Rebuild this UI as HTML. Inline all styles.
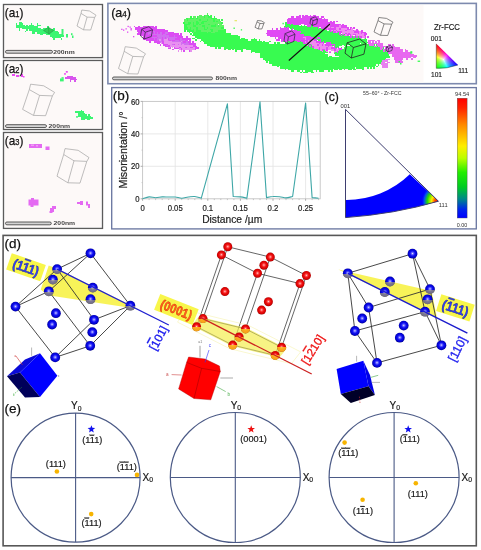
<!DOCTYPE html>
<html><head><meta charset="utf-8"><style>
html,body{margin:0;padding:0;background:#fff;}
svg{display:block;font-family:'Liberation Sans', Arial, sans-serif;}
</style></head><body>
<svg width="481" height="550" viewBox="0 0 481 550">
<rect x="3.5" y="4.5" width="99" height="53.1" fill="#ffffff" stroke="#5c5c5c" stroke-width="1.35"/>
<rect x="5" y="5.8" width="96" height="50.5" fill="#fdf9f8"/>
<rect x="3.5" y="60.5" width="99" height="69.0" fill="#ffffff" stroke="#5c5c5c" stroke-width="1.35"/>
<rect x="5" y="61.8" width="96" height="66.4" fill="#fdf9f8"/>
<rect x="3.5" y="132.5" width="99" height="95.9" fill="#ffffff" stroke="#5c5c5c" stroke-width="1.35"/>
<rect x="5" y="133.8" width="96" height="93.30000000000001" fill="#fdf9f8"/>
<rect x="107.9" y="3.4" width="368.4" height="80.3" fill="#ffffff" stroke="#7d8aae" stroke-width="1.6"/>
<rect x="110" y="5" width="313.5" height="77.5" fill="#fdf9f8"/>
<rect x="111.7" y="87.6" width="364.6" height="141.3" fill="#ffffff" stroke="#6c78a2" stroke-width="1.35"/>
<rect x="3.1" y="235.4" width="473.2" height="310.4" fill="#ffffff" stroke="#575757" stroke-width="1.6"/>
<path d="M18.50,21.50h3.00v1.5h-3.00zM15.50,23.00h1.50v1.5h-1.50zM18.50,23.00h4.50v1.5h-4.50zM30.50,23.00h1.50v1.5h-1.50zM36.50,23.00h1.50v1.5h-1.50zM15.50,24.50h9.00v1.5h-9.00zM26.00,24.50h1.50v1.5h-1.50zM29.00,24.50h4.50v1.5h-4.50zM36.50,24.50h4.50v1.5h-4.50zM15.50,26.00h22.50v1.5h-22.50zM47.00,26.00h1.50v1.5h-1.50zM18.50,27.50h1.50v1.5h-1.50zM21.50,27.50h19.50v1.5h-19.50zM42.50,27.50h7.50v1.5h-7.50zM53.00,27.50h1.50v1.5h-1.50zM18.50,29.00h1.50v1.5h-1.50zM26.00,29.00h1.50v1.5h-1.50zM29.00,29.00h25.50v1.5h-25.50zM24.50,30.50h1.50v1.5h-1.50zM32.00,30.50h25.50v1.5h-25.50zM32.00,32.00h3.00v1.5h-3.00zM36.50,32.00h22.50v1.5h-22.50zM39.50,33.50h3.00v1.5h-3.00zM45.50,33.50h16.50v1.5h-16.50zM50.00,35.00h13.50v1.5h-13.50zM51.50,36.50h9.00v1.5h-9.00zM53.00,38.00h1.50v1.5h-1.50zM60.50,38.00h1.50v1.5h-1.50z" fill="#3af672" shape-rendering="crispEdges"/>
<rect x="61.5" y="29" width="2" height="8" fill="#3af672"/>
<rect x="66" y="34" width="2" height="3.5" fill="#3af672"/>
<rect x="71" y="33.2" width="1.5" height="2" fill="#3af672"/>
<rect x="72" y="35.5" width="1.5" height="2.5" fill="#3af672"/>
<path d="M43.5,30.5 L48.5,27.2 L53.7,30.5 L49,34 Z" fill="#2fc050" opacity="0.75"/>
<path d="M43.5,30.5 L48.5,27.2 L53.7,30.5 L49,34 Z M48.5,27.2 L49,34" fill="none" stroke="#207a40" stroke-width="0.4"/>
<path d="M81.8,10.0 L89.5,11.0 L96.0,15.2 L94.7,17.4 L90.7,30.0 L83.5,29.8 L77.0,26.0 L81.0,13.4 Z M81.0,13.4 L87.1,17.1 L94.7,17.4 M87.1,17.1 L83.5,29.8" fill="none" stroke="#a2a2a2" stroke-width="0.7" stroke-linejoin="round"/>
<rect x="5.5" y="50.4" width="47" height="2.8" rx="1.4" fill="#d4d4d4" stroke="#4a4a4a" stroke-width="0.9"/>
<text x="53.3" y="53.6" font-size="6.2" font-weight="bold" fill="#444" textLength="21.5" lengthAdjust="spacingAndGlyphs">200nm</text>
<rect x="12" y="74" width="3" height="2" fill="#ea4cf2"/>
<rect x="16" y="75" width="3" height="2" fill="#ea4cf2"/>
<rect x="21" y="74" width="2" height="3" fill="#ea4cf2"/>
<rect x="23" y="76" width="1.5" height="1.5" fill="#ea4cf2"/>
<rect x="65.8" y="71" width="2" height="1.7" fill="#ea4cf2"/>
<rect x="64.2" y="73" width="1.6" height="1.8" fill="#ea4cf2"/>
<path d="M66.50,75.50h6.00v1.5h-6.00zM65.00,77.00h10.50v1.5h-10.50zM69.50,78.50h7.50v1.5h-7.50zM69.50,80.00h1.50v1.5h-1.50zM74.00,80.00h1.50v1.5h-1.50z" fill="#d855ee" shape-rendering="crispEdges"/>
<rect x="60" y="78.5" width="3.7" height="2.9" fill="#3af672"/>
<rect x="61.5" y="77.2" width="2.2" height="1.5" fill="#3af672"/>
<path d="M80.50,109.50h1.50v1.5h-1.50zM74.50,111.00h9.00v1.5h-9.00zM77.50,112.50h7.50v1.5h-7.50zM77.50,114.00h9.00v1.5h-9.00zM88.00,114.00h1.50v1.5h-1.50zM77.50,115.50h13.50v1.5h-13.50zM80.50,117.00h12.00v1.5h-12.00zM80.50,118.50h4.50v1.5h-4.50zM86.50,118.50h3.00v1.5h-3.00z" fill="#3af672" shape-rendering="crispEdges"/>
<rect x="76.2" y="116" width="1.6" height="1.8" fill="#3af672"/>
<path d="M30.6,84.2 L43.7,85.8 L54.6,92.4 L52.4,95.9 L45.6,115.7 L33.5,115.4 L22.6,109.4 L29.3,89.6 Z M29.3,89.6 L39.6,95.4 L52.4,95.9 M39.6,95.4 L33.5,115.4" fill="none" stroke="#a2a2a2" stroke-width="0.7" stroke-linejoin="round"/>
<rect x="5.5" y="124.7" width="41" height="2.8" rx="1.4" fill="#d4d4d4" stroke="#4a4a4a" stroke-width="0.9"/>
<text x="48.6" y="127.89999999999999" font-size="6.2" font-weight="bold" fill="#444" textLength="21.5" lengthAdjust="spacingAndGlyphs">200nm</text>
<rect x="29" y="144" width="13" height="4" fill="#e46af2"/>
<rect x="45.5" y="146.5" width="4" height="3.5" fill="#e46af2"/>
<rect x="31" y="144.5" width="3" height="1.5" fill="#f0a0f4"/>
<rect x="36" y="145" width="2" height="1.5" fill="#f0a0f4"/>
<rect x="28.5" y="199.5" width="10" height="6" fill="#e46af2"/>
<rect x="31" y="198" width="3" height="2" fill="#e46af2"/>
<rect x="30.5" y="205" width="3" height="2" fill="#e46af2"/>
<rect x="50" y="208" width="4" height="4" fill="#e46af2"/>
<rect x="52" y="206" width="4" height="3" fill="#e46af2"/>
<rect x="49.5" y="211" width="3" height="2" fill="#e46af2"/>
<rect x="77" y="202" width="3" height="2" fill="#e46af2"/>
<rect x="80" y="201" width="3" height="4" fill="#e46af2"/>
<rect x="86" y="201.5" width="2" height="4" fill="#e46af2"/>
<rect x="88" y="204" width="2" height="4" fill="#e46af2"/>
<path d="M65.0,148.6 L78.1,150.3 L89.0,157.6 L86.8,161.4 L80.0,183.1 L67.9,182.8 L57.0,176.2 L63.7,154.5 Z M63.7,154.5 L74.0,160.8 L86.8,161.4 M74.0,160.8 L67.9,182.8" fill="none" stroke="#a2a2a2" stroke-width="0.7" stroke-linejoin="round"/>
<rect x="5.5" y="222.0" width="45.8" height="2.8" rx="1.4" fill="#d4d4d4" stroke="#4a4a4a" stroke-width="0.9"/>
<text x="53.6" y="225.2" font-size="6.2" font-weight="bold" fill="#444" textLength="21.5" lengthAdjust="spacingAndGlyphs">200nm</text>
<path d="M133.55,25.55h1.55v1.55h-1.55zM138.20,25.55h1.55v1.55h-1.55zM142.85,25.55h10.85v1.55h-10.85zM155.25,25.55h1.55v1.55h-1.55zM135.10,27.10h21.70v1.55h-21.70zM135.10,28.65h29.45v1.55h-29.45zM136.65,30.20h31.00v1.55h-31.00zM138.20,31.75h35.65v1.55h-35.65zM136.65,33.30h41.85v1.55h-41.85zM180.05,33.30h1.55v1.55h-1.55zM139.75,34.85h41.85v1.55h-41.85zM142.85,36.40h40.30v1.55h-40.30zM186.25,36.40h1.55v1.55h-1.55zM142.85,37.95h48.05v1.55h-48.05zM145.95,39.50h41.85v1.55h-41.85zM189.35,39.50h1.55v1.55h-1.55zM149.05,41.05h1.55v1.55h-1.55zM153.70,41.05h37.20v1.55h-37.20zM192.45,41.05h1.55v1.55h-1.55zM156.80,42.60h3.10v1.55h-3.10zM161.45,42.60h34.10v1.55h-34.10zM159.90,44.15h1.55v1.55h-1.55zM163.00,44.15h32.55v1.55h-32.55zM164.55,45.70h32.55v1.55h-32.55zM167.65,47.25h3.10v1.55h-3.10zM173.85,47.25h24.80v1.55h-24.80zM172.30,48.80h1.55v1.55h-1.55zM178.50,48.80h10.85v1.55h-10.85zM190.90,48.80h4.65v1.55h-4.65zM183.15,50.35h1.55v1.55h-1.55zM189.35,50.35h1.55v1.55h-1.55z" fill="#dc4cf4" shape-rendering="crispEdges"/>
<path d="M152.20,30.55h3.10v1.55h-3.10zM147.55,32.10h4.65v1.55h-4.65zM153.75,32.10h1.55v1.55h-1.55zM156.85,32.10h1.55v1.55h-1.55zM159.95,32.10h1.55v1.55h-1.55zM164.60,32.10h3.10v1.55h-3.10zM147.55,33.65h1.55v1.55h-1.55zM152.20,33.65h9.30v1.55h-9.30zM163.05,33.65h3.10v1.55h-3.10zM150.65,35.20h1.55v1.55h-1.55zM156.85,35.20h12.40v1.55h-12.40zM173.90,35.20h1.55v1.55h-1.55zM152.20,36.75h4.65v1.55h-4.65zM158.40,36.75h3.10v1.55h-3.10zM163.05,36.75h1.55v1.55h-1.55zM166.15,36.75h10.85v1.55h-10.85zM153.75,38.30h1.55v1.55h-1.55zM156.85,38.30h4.65v1.55h-4.65zM163.05,38.30h1.55v1.55h-1.55zM166.15,38.30h1.55v1.55h-1.55zM169.25,38.30h6.20v1.55h-6.20zM180.10,38.30h1.55v1.55h-1.55zM156.85,39.85h1.55v1.55h-1.55zM159.95,39.85h1.55v1.55h-1.55zM163.05,39.85h1.55v1.55h-1.55zM167.70,39.85h1.55v1.55h-1.55zM170.80,39.85h1.55v1.55h-1.55zM175.45,39.85h3.10v1.55h-3.10zM180.10,39.85h4.65v1.55h-4.65zM159.95,41.40h1.55v1.55h-1.55zM170.80,41.40h12.40v1.55h-12.40zM186.30,41.40h1.55v1.55h-1.55zM167.70,42.95h6.20v1.55h-6.20zM175.45,42.95h13.95v1.55h-13.95zM166.15,44.50h1.55v1.55h-1.55zM175.45,44.50h13.95v1.55h-13.95zM190.95,44.50h1.55v1.55h-1.55zM175.45,46.05h1.55v1.55h-1.55zM181.65,46.05h4.65v1.55h-4.65zM187.85,46.05h1.55v1.55h-1.55z" fill="#d070f0" shape-rendering="crispEdges"/>
<path d="M166.85,37.55h1.55v1.55h-1.55zM159.10,39.10h1.55v1.55h-1.55zM163.75,39.10h4.65v1.55h-4.65zM163.75,40.65h7.75v1.55h-7.75zM180.80,40.65h1.55v1.55h-1.55zM160.65,42.20h1.55v1.55h-1.55zM163.75,42.20h17.05v1.55h-17.05zM168.40,43.75h3.10v1.55h-3.10zM174.60,43.75h3.10v1.55h-3.10zM179.25,43.75h1.55v1.55h-1.55zM182.35,43.75h1.55v1.55h-1.55zM169.95,45.30h23.25v1.55h-23.25zM168.40,46.85h1.55v1.55h-1.55zM171.50,46.85h1.55v1.55h-1.55zM174.60,46.85h4.65v1.55h-4.65zM180.80,46.85h4.65v1.55h-4.65zM187.00,46.85h3.10v1.55h-3.10zM193.20,46.85h1.55v1.55h-1.55zM179.25,48.40h1.55v1.55h-1.55zM182.35,48.40h12.40v1.55h-12.40zM177.70,49.95h1.55v1.55h-1.55zM180.80,49.95h1.55v1.55h-1.55zM190.10,49.95h1.55v1.55h-1.55z" fill="#e890f0" shape-rendering="crispEdges"/>
<rect x="121.2" y="28.7" width="1.3" height="1.3" fill="#e04af4"/>
<rect x="123" y="29.5" width="1.3" height="1.3" fill="#e04af4"/>
<rect x="125.5" y="28.2" width="1.3" height="1.3" fill="#e04af4"/>
<rect x="127.5" y="25.8" width="1.3" height="1.3" fill="#e04af4"/>
<rect x="129.5" y="26.5" width="1.3" height="1.3" fill="#e04af4"/>
<rect x="130.5" y="28" width="1.3" height="2.5" fill="#e04af4"/>
<rect x="127" y="31.5" width="1.3" height="1.3" fill="#e04af4"/>
<rect x="133" y="36" width="1.3" height="1.3" fill="#e04af4"/>
<path d="M204.25,14.55h4.65v1.55h-4.65zM210.45,14.55h1.55v1.55h-1.55zM190.30,16.10h1.55v1.55h-1.55zM196.50,16.10h15.50v1.55h-15.50zM213.55,16.10h1.55v1.55h-1.55zM185.65,17.65h31.00v1.55h-31.00zM184.10,19.20h35.65v1.55h-35.65zM221.30,19.20h1.55v1.55h-1.55zM184.10,20.75h37.20v1.55h-37.20zM182.55,22.30h35.65v1.55h-35.65zM219.75,22.30h3.10v1.55h-3.10zM184.10,23.85h34.10v1.55h-34.10zM219.75,23.85h1.55v1.55h-1.55zM184.10,25.40h37.20v1.55h-37.20zM184.10,26.95h40.30v1.55h-40.30zM184.10,28.50h41.85v1.55h-41.85zM184.10,30.05h1.55v1.55h-1.55zM187.20,30.05h38.75v1.55h-38.75zM188.75,31.60h1.55v1.55h-1.55zM191.85,31.60h34.10v1.55h-34.10zM190.30,33.15h1.55v1.55h-1.55zM193.40,33.15h37.20v1.55h-37.20zM191.85,34.70h46.50v1.55h-46.50zM194.95,36.25h44.95v1.55h-44.95zM191.85,37.80h3.10v1.55h-3.10zM196.50,37.80h43.40v1.55h-43.40zM241.45,37.80h3.10v1.55h-3.10zM253.85,37.80h1.55v1.55h-1.55zM194.95,39.35h1.55v1.55h-1.55zM201.15,39.35h46.50v1.55h-46.50zM250.75,39.35h6.20v1.55h-6.20zM258.50,39.35h1.55v1.55h-1.55zM291.05,39.35h6.20v1.55h-6.20zM300.35,39.35h1.55v1.55h-1.55zM360.80,39.35h1.55v1.55h-1.55zM363.90,39.35h1.55v1.55h-1.55zM199.60,40.90h1.55v1.55h-1.55zM202.70,40.90h58.90v1.55h-58.90zM263.15,40.90h1.55v1.55h-1.55zM269.35,40.90h1.55v1.55h-1.55zM283.30,40.90h1.55v1.55h-1.55zM287.95,40.90h3.10v1.55h-3.10zM292.60,40.90h13.95v1.55h-13.95zM308.10,40.90h1.55v1.55h-1.55zM315.85,40.90h1.55v1.55h-1.55zM360.80,40.90h4.65v1.55h-4.65zM204.25,42.45h65.10v1.55h-65.10zM274.00,42.45h1.55v1.55h-1.55zM277.10,42.45h3.10v1.55h-3.10zM284.85,42.45h34.10v1.55h-34.10zM351.50,42.45h7.75v1.55h-7.75zM360.80,42.45h6.20v1.55h-6.20zM368.55,42.45h1.55v1.55h-1.55zM371.65,42.45h1.55v1.55h-1.55zM207.35,44.00h114.70v1.55h-114.70zM323.60,44.00h1.55v1.55h-1.55zM345.30,44.00h1.55v1.55h-1.55zM349.95,44.00h24.80v1.55h-24.80zM376.30,44.00h3.10v1.55h-3.10zM210.45,45.55h119.35v1.55h-119.35zM334.45,45.55h3.10v1.55h-3.10zM345.30,45.55h34.10v1.55h-34.10zM382.50,45.55h1.55v1.55h-1.55zM215.10,47.10h1.55v1.55h-1.55zM218.20,47.10h3.10v1.55h-3.10zM224.40,47.10h106.95v1.55h-106.95zM332.90,47.10h3.10v1.55h-3.10zM340.65,47.10h1.55v1.55h-1.55zM343.75,47.10h40.30v1.55h-40.30zM224.40,48.65h1.55v1.55h-1.55zM227.50,48.65h3.10v1.55h-3.10zM232.15,48.65h1.55v1.55h-1.55zM235.25,48.65h7.75v1.55h-7.75zM246.10,48.65h137.95v1.55h-137.95zM385.60,48.65h1.55v1.55h-1.55zM235.25,50.20h1.55v1.55h-1.55zM241.45,50.20h1.55v1.55h-1.55zM250.75,50.20h134.85v1.55h-134.85zM250.75,51.75h1.55v1.55h-1.55zM255.40,51.75h133.30v1.55h-133.30zM260.05,53.30h128.65v1.55h-128.65zM260.05,54.85h128.65v1.55h-128.65zM260.05,56.40h130.20v1.55h-130.20zM263.15,57.95h122.45v1.55h-122.45zM264.70,59.50h119.35v1.55h-119.35zM266.25,61.05h1.55v1.55h-1.55zM269.35,61.05h114.70v1.55h-114.70zM269.35,62.60h113.15v1.55h-113.15zM272.45,64.15h103.85v1.55h-103.85zM377.85,64.15h1.55v1.55h-1.55zM277.10,65.70h1.55v1.55h-1.55zM280.20,65.70h94.55v1.55h-94.55zM376.30,65.70h1.55v1.55h-1.55zM280.20,67.25h74.40v1.55h-74.40zM356.15,67.25h7.75v1.55h-7.75zM367.00,67.25h1.55v1.55h-1.55zM370.10,67.25h1.55v1.55h-1.55zM373.20,67.25h1.55v1.55h-1.55zM284.85,68.80h1.55v1.55h-1.55zM287.95,68.80h44.95v1.55h-44.95zM334.45,68.80h3.10v1.55h-3.10zM339.10,68.80h3.10v1.55h-3.10zM343.75,68.80h1.55v1.55h-1.55zM348.40,68.80h3.10v1.55h-3.10zM353.05,68.80h3.10v1.55h-3.10zM362.35,68.80h1.55v1.55h-1.55zM291.05,70.35h3.10v1.55h-3.10zM297.25,70.35h3.10v1.55h-3.10zM301.90,70.35h1.55v1.55h-1.55zM305.00,70.35h7.75v1.55h-7.75zM315.85,70.35h1.55v1.55h-1.55zM318.95,70.35h4.65v1.55h-4.65zM328.25,70.35h1.55v1.55h-1.55zM331.35,70.35h1.55v1.55h-1.55zM300.35,71.90h1.55v1.55h-1.55zM303.45,71.90h4.65v1.55h-4.65zM311.20,71.90h3.10v1.55h-3.10z" fill="#38fb50" shape-rendering="crispEdges"/>
<path d="M206.80,13.00h1.55v1.55h-1.55zM199.05,14.55h3.10v1.55h-3.10zM205.25,14.55h1.55v1.55h-1.55zM209.90,14.55h1.55v1.55h-1.55zM192.85,16.10h3.10v1.55h-3.10zM197.50,16.10h6.20v1.55h-6.20zM205.25,16.10h3.10v1.55h-3.10zM188.20,17.65h1.55v1.55h-1.55zM194.40,17.65h1.55v1.55h-1.55zM197.50,17.65h13.95v1.55h-13.95zM183.55,19.20h3.10v1.55h-3.10zM188.20,19.20h10.85v1.55h-10.85zM200.60,19.20h6.20v1.55h-6.20zM208.35,19.20h4.65v1.55h-4.65zM214.55,19.20h4.65v1.55h-4.65zM183.55,20.75h12.40v1.55h-12.40zM197.50,20.75h4.65v1.55h-4.65zM206.80,20.75h6.20v1.55h-6.20zM214.55,20.75h1.55v1.55h-1.55zM217.65,20.75h3.10v1.55h-3.10zM185.10,22.30h3.10v1.55h-3.10zM191.30,22.30h1.55v1.55h-1.55zM194.40,22.30h1.55v1.55h-1.55zM199.05,22.30h1.55v1.55h-1.55zM203.70,22.30h17.05v1.55h-17.05zM189.75,23.85h3.10v1.55h-3.10zM194.40,23.85h1.55v1.55h-1.55zM197.50,23.85h1.55v1.55h-1.55zM200.60,23.85h7.75v1.55h-7.75zM209.90,23.85h4.65v1.55h-4.65zM216.10,23.85h1.55v1.55h-1.55zM219.20,23.85h3.10v1.55h-3.10zM186.65,25.40h6.20v1.55h-6.20zM195.95,25.40h6.20v1.55h-6.20zM205.25,25.40h6.20v1.55h-6.20zM216.10,25.40h1.55v1.55h-1.55zM219.20,25.40h4.65v1.55h-4.65zM188.20,26.95h1.55v1.55h-1.55zM191.30,26.95h4.65v1.55h-4.65zM197.50,26.95h6.20v1.55h-6.20zM205.25,26.95h1.55v1.55h-1.55zM208.35,26.95h12.40v1.55h-12.40zM191.30,28.50h1.55v1.55h-1.55zM194.40,28.50h1.55v1.55h-1.55zM197.50,28.50h6.20v1.55h-6.20zM206.80,28.50h3.10v1.55h-3.10zM213.00,28.50h10.85v1.55h-10.85zM194.40,30.05h1.55v1.55h-1.55zM200.60,30.05h10.85v1.55h-10.85zM213.00,30.05h4.65v1.55h-4.65zM192.85,31.60h1.55v1.55h-1.55zM206.80,31.60h1.55v1.55h-1.55zM211.45,31.60h3.10v1.55h-3.10z" fill="#60f264" shape-rendering="crispEdges"/>
<path d="M285.10,21.55h3.10v1.55h-3.10zM285.10,23.10h4.65v1.55h-4.65zM291.30,23.10h1.55v1.55h-1.55zM294.40,23.10h1.55v1.55h-1.55zM303.70,23.10h1.55v1.55h-1.55zM285.10,24.65h13.95v1.55h-13.95zM300.60,24.65h1.55v1.55h-1.55zM303.70,24.65h1.55v1.55h-1.55zM306.80,24.65h3.10v1.55h-3.10zM311.45,24.65h1.55v1.55h-1.55zM283.55,26.20h35.65v1.55h-35.65zM320.75,26.20h1.55v1.55h-1.55zM283.55,27.75h4.65v1.55h-4.65zM289.75,27.75h35.65v1.55h-35.65zM285.10,29.30h1.55v1.55h-1.55zM291.30,29.30h1.55v1.55h-1.55zM294.40,29.30h32.55v1.55h-32.55zM328.50,29.30h4.65v1.55h-4.65zM294.40,30.85h41.85v1.55h-41.85zM295.95,32.40h1.55v1.55h-1.55zM299.05,32.40h40.30v1.55h-40.30zM302.15,33.95h43.40v1.55h-43.40zM351.75,33.95h1.55v1.55h-1.55zM303.70,35.50h1.55v1.55h-1.55zM306.80,35.50h46.50v1.55h-46.50zM354.85,35.50h6.20v1.55h-6.20zM308.35,37.05h52.70v1.55h-52.70zM364.15,37.05h1.55v1.55h-1.55zM311.45,38.60h55.80v1.55h-55.80zM317.65,40.15h49.60v1.55h-49.60zM323.85,41.70h41.85v1.55h-41.85zM367.25,41.70h1.55v1.55h-1.55zM328.50,43.25h24.80v1.55h-24.80zM356.40,43.25h3.10v1.55h-3.10zM361.05,43.25h1.55v1.55h-1.55zM331.60,44.80h10.85v1.55h-10.85zM344.00,44.80h1.55v1.55h-1.55zM350.20,44.80h1.55v1.55h-1.55zM334.70,46.35h4.65v1.55h-4.65z" fill="#38fb50" shape-rendering="crispEdges"/>
<path d="M298.95,14.55h1.55v1.55h-1.55zM302.05,14.55h1.55v1.55h-1.55zM305.15,14.55h3.10v1.55h-3.10zM309.80,14.55h1.55v1.55h-1.55zM312.90,14.55h3.10v1.55h-3.10zM291.20,16.10h3.10v1.55h-3.10zM295.85,16.10h4.65v1.55h-4.65zM302.05,16.10h17.05v1.55h-17.05zM320.65,16.10h3.10v1.55h-3.10zM288.10,17.65h34.10v1.55h-34.10zM323.75,17.65h1.55v1.55h-1.55zM286.55,19.20h41.85v1.55h-41.85zM286.55,20.75h41.85v1.55h-41.85zM329.95,20.75h1.55v1.55h-1.55zM333.05,20.75h1.55v1.55h-1.55zM336.15,20.75h1.55v1.55h-1.55zM286.55,22.30h48.05v1.55h-48.05zM289.65,23.85h1.55v1.55h-1.55zM292.75,23.85h7.75v1.55h-7.75zM303.60,23.85h37.20v1.55h-37.20zM342.35,23.85h1.55v1.55h-1.55zM306.70,25.40h4.65v1.55h-4.65zM312.90,25.40h34.10v1.55h-34.10zM317.55,26.95h1.55v1.55h-1.55zM320.65,26.95h27.90v1.55h-27.90zM350.10,26.95h1.55v1.55h-1.55zM353.20,26.95h1.55v1.55h-1.55zM325.30,28.50h27.90v1.55h-27.90zM356.30,28.50h1.55v1.55h-1.55zM329.95,30.05h1.55v1.55h-1.55zM333.05,30.05h26.35v1.55h-26.35zM360.95,30.05h1.55v1.55h-1.55zM333.05,31.60h4.65v1.55h-4.65zM339.25,31.60h26.35v1.55h-26.35zM339.25,33.15h1.55v1.55h-1.55zM342.35,33.15h1.55v1.55h-1.55zM345.45,33.15h21.70v1.55h-21.70zM340.80,34.70h1.55v1.55h-1.55zM343.90,34.70h1.55v1.55h-1.55zM347.00,34.70h1.55v1.55h-1.55zM350.10,34.70h3.10v1.55h-3.10zM354.75,34.70h10.85v1.55h-10.85zM350.10,36.25h1.55v1.55h-1.55zM353.20,36.25h1.55v1.55h-1.55zM356.30,36.25h1.55v1.55h-1.55zM359.40,36.25h3.10v1.55h-3.10zM364.05,36.25h1.55v1.55h-1.55zM367.15,36.25h1.55v1.55h-1.55z" fill="#e04af4" shape-rendering="crispEdges"/>
<path d="M329.65,23.55h1.55v1.55h-1.55zM328.10,25.10h1.55v1.55h-1.55zM338.95,25.10h1.55v1.55h-1.55zM328.10,26.65h1.55v1.55h-1.55zM331.20,26.65h3.10v1.55h-3.10zM335.85,26.65h4.65v1.55h-4.65zM326.55,28.20h1.55v1.55h-1.55zM335.85,28.20h3.10v1.55h-3.10zM340.50,28.20h6.20v1.55h-6.20zM351.35,28.20h1.55v1.55h-1.55zM331.20,29.75h1.55v1.55h-1.55zM334.30,29.75h1.55v1.55h-1.55zM337.40,29.75h7.75v1.55h-7.75zM346.70,29.75h6.20v1.55h-6.20zM354.45,29.75h1.55v1.55h-1.55zM357.55,29.75h1.55v1.55h-1.55zM335.85,31.30h1.55v1.55h-1.55zM342.05,31.30h12.40v1.55h-12.40zM359.10,31.30h1.55v1.55h-1.55zM342.05,32.85h3.10v1.55h-3.10zM346.70,32.85h1.55v1.55h-1.55zM349.80,32.85h7.75v1.55h-7.75zM359.10,32.85h1.55v1.55h-1.55zM362.20,32.85h1.55v1.55h-1.55zM345.15,34.40h1.55v1.55h-1.55zM351.35,34.40h1.55v1.55h-1.55zM356.00,34.40h7.75v1.55h-7.75zM362.20,35.95h3.10v1.55h-3.10zM360.65,37.50h1.55v1.55h-1.55zM363.75,37.50h1.55v1.55h-1.55z" fill="#f08cf0" shape-rendering="crispEdges"/>
<path d="M279.50,26.55h1.55v1.55h-1.55zM284.15,26.55h1.55v1.55h-1.55zM287.25,26.55h1.55v1.55h-1.55zM271.75,28.10h1.55v1.55h-1.55zM276.40,28.10h1.55v1.55h-1.55zM279.50,28.10h9.30v1.55h-9.30zM291.90,28.10h1.55v1.55h-1.55zM267.10,29.65h29.45v1.55h-29.45zM267.10,31.20h34.10v1.55h-34.10zM265.55,32.75h34.10v1.55h-34.10zM267.10,34.30h37.20v1.55h-37.20zM270.20,35.85h40.30v1.55h-40.30zM274.85,37.40h1.55v1.55h-1.55zM277.95,37.40h37.20v1.55h-37.20zM316.70,37.40h3.10v1.55h-3.10zM276.40,38.95h3.10v1.55h-3.10zM281.05,38.95h35.65v1.55h-35.65zM319.80,38.95h1.55v1.55h-1.55zM281.05,40.50h1.55v1.55h-1.55zM284.15,40.50h3.10v1.55h-3.10zM290.35,40.50h3.10v1.55h-3.10zM296.55,40.50h3.10v1.55h-3.10zM301.20,40.50h20.15v1.55h-20.15zM322.90,40.50h1.55v1.55h-1.55zM302.75,42.05h21.70v1.55h-21.70zM326.00,42.05h4.65v1.55h-4.65zM305.85,43.60h3.10v1.55h-3.10zM310.50,43.60h24.80v1.55h-24.80zM308.95,45.15h1.55v1.55h-1.55zM312.05,45.15h20.15v1.55h-20.15zM333.75,45.15h1.55v1.55h-1.55zM312.05,46.70h1.55v1.55h-1.55zM316.70,46.70h18.60v1.55h-18.60zM336.85,46.70h1.55v1.55h-1.55zM318.25,48.25h1.55v1.55h-1.55zM321.35,48.25h15.50v1.55h-15.50zM338.40,48.25h3.10v1.55h-3.10zM321.35,49.80h1.55v1.55h-1.55zM326.00,49.80h12.40v1.55h-12.40zM327.55,51.35h7.75v1.55h-7.75zM336.85,51.35h1.55v1.55h-1.55z" fill="#e04af4" shape-rendering="crispEdges"/>
<path d="M303.10,36.55h3.10v1.55h-3.10zM304.65,38.10h1.55v1.55h-1.55zM307.75,39.65h1.55v1.55h-1.55zM310.85,39.65h3.10v1.55h-3.10zM304.65,41.20h1.55v1.55h-1.55zM307.75,41.20h7.75v1.55h-7.75zM306.20,42.75h1.55v1.55h-1.55zM309.30,42.75h9.30v1.55h-9.30zM320.15,42.75h3.10v1.55h-3.10zM306.20,44.30h1.55v1.55h-1.55zM312.40,44.30h4.65v1.55h-4.65zM318.60,44.30h3.10v1.55h-3.10zM323.25,44.30h1.55v1.55h-1.55zM313.95,45.85h13.95v1.55h-13.95zM329.45,45.85h3.10v1.55h-3.10zM313.95,47.40h4.65v1.55h-4.65zM320.15,47.40h6.20v1.55h-6.20zM327.90,47.40h3.10v1.55h-3.10zM320.15,48.95h1.55v1.55h-1.55zM324.80,48.95h1.55v1.55h-1.55zM327.90,48.95h6.20v1.55h-6.20zM335.65,48.95h3.10v1.55h-3.10zM321.70,50.50h1.55v1.55h-1.55zM326.35,50.50h4.65v1.55h-4.65zM334.10,50.50h3.10v1.55h-3.10zM327.90,52.05h1.55v1.55h-1.55z" fill="#f08cf0" shape-rendering="crispEdges"/>
<path d="M327.65,49.55h3.10v1.55h-3.10zM327.65,51.10h1.55v1.55h-1.55zM330.75,51.10h3.10v1.55h-3.10zM324.55,52.65h9.30v1.55h-9.30zM327.65,54.20h7.75v1.55h-7.75zM327.65,55.75h1.55v1.55h-1.55zM332.30,55.75h6.20v1.55h-6.20z" fill="#fdf9f8" shape-rendering="crispEdges"/>
<path d="M367.55,39.55h7.75v1.55h-7.75zM376.85,39.55h3.10v1.55h-3.10zM367.55,41.10h3.10v1.55h-3.10zM372.20,41.10h1.55v1.55h-1.55zM375.30,41.10h1.55v1.55h-1.55zM378.40,41.10h1.55v1.55h-1.55zM367.55,42.65h15.50v1.55h-15.50zM369.10,44.20h4.65v1.55h-4.65zM376.85,44.20h6.20v1.55h-6.20zM387.70,44.20h3.10v1.55h-3.10zM392.35,44.20h1.55v1.55h-1.55zM373.75,45.75h3.10v1.55h-3.10zM378.40,45.75h9.30v1.55h-9.30zM389.25,45.75h6.20v1.55h-6.20zM379.95,47.30h3.10v1.55h-3.10zM384.60,47.30h15.50v1.55h-15.50zM379.95,48.85h1.55v1.55h-1.55zM383.05,48.85h20.15v1.55h-20.15zM404.75,48.85h1.55v1.55h-1.55zM383.05,50.40h1.55v1.55h-1.55zM386.15,50.40h17.05v1.55h-17.05zM404.75,50.40h3.10v1.55h-3.10zM387.70,51.95h23.25v1.55h-23.25zM392.35,53.50h21.70v1.55h-21.70zM392.35,55.05h24.80v1.55h-24.80zM393.90,56.60h17.05v1.55h-17.05zM412.50,56.60h3.10v1.55h-3.10zM393.90,58.15h9.30v1.55h-9.30zM406.30,58.15h1.55v1.55h-1.55zM410.95,58.15h1.55v1.55h-1.55zM395.45,59.70h6.20v1.55h-6.20zM395.45,61.25h7.75v1.55h-7.75z" fill="#e868f0" shape-rendering="crispEdges"/>
<path d="M385.20,58.55h4.65v1.55h-4.65zM382.10,60.10h6.20v1.55h-6.20zM380.55,61.65h4.65v1.55h-4.65zM386.75,61.65h3.10v1.55h-3.10zM380.55,63.20h7.75v1.55h-7.75zM382.10,64.75h6.20v1.55h-6.20zM382.10,66.30h6.20v1.55h-6.20z" fill="#e880f0" shape-rendering="crispEdges"/>
<rect x="410.3" y="51.2" width="2" height="2.5" fill="#38fb50"/>
<rect x="398.5" y="61" width="1.5" height="1.5" fill="#38fb50"/>
<rect x="400" y="63" width="1.5" height="1.5" fill="#38fb50"/>
<rect x="417.6" y="60.6" width="2.5" height="1.3" fill="#38fb50"/>
<rect x="234.5" y="20" width="2.5" height="1.3" fill="#e8e870"/>
<rect x="233.5" y="27.5" width="1.3" height="1.5" fill="#38fb50"/>
<rect x="240.8" y="29.2" width="1.3" height="1.3" fill="#38fb50"/>
<rect x="282.5" y="22.8" width="1.3" height="1.5" fill="#38fb50"/>
<line x1="288.8" y1="60.5" x2="330.0" y2="24.0" stroke="#111" stroke-width="1.1" />
<path d="M141.7,29.2 L148.9,26.7 L152.5,29.8 L151.3,36.5 L144.1,39.0 L140.5,35.9 Z M141.7,29.2 L145.3,32.2 L152.5,29.8 M145.3,32.2 L144.1,39.0" fill="none" stroke="#3a2a4a" stroke-width="0.8" stroke-linejoin="round"/>
<path d="M285.1,33.6 L291.7,31.0 L295.0,34.2 L293.9,41.4 L287.3,44.0 L284.0,40.8 Z M285.1,33.6 L288.4,36.9 L295.0,34.2 M288.4,36.9 L287.3,44.0" fill="none" stroke="#3a2a4a" stroke-width="0.8" stroke-linejoin="round"/>
<path d="M310.8,18.5 L315.2,16.8 L317.5,19.0 L316.8,23.8 L312.2,25.5 L310.0,23.3 Z M310.8,18.5 L313.0,20.7 L317.5,19.0 M313.0,20.7 L312.2,25.5" fill="none" stroke="#3a2a4a" stroke-width="0.8" stroke-linejoin="round"/>
<path d="M347.1,42.8 L359.7,39.0 L366.0,43.8 L363.9,54.2 L351.3,58.0 L345.0,53.2 Z M347.1,42.8 L353.4,47.5 L366.0,43.8 M353.4,47.5 L351.3,58.0" fill="none" stroke="#222" stroke-width="0.8" stroke-linejoin="round"/>
<path d="M386.6,46.8 L390.6,45.5 L392.5,47.1 L391.9,50.5 L387.9,51.8 L386.0,50.2 Z M386.6,46.8 L388.6,48.3 L392.5,47.1 M388.6,48.3 L387.9,51.8" fill="none" stroke="#3a2a4a" stroke-width="0.8" stroke-linejoin="round"/>
<path d="M125.2,46.7 L136.3,48.1 L145.5,53.8 L143.6,56.8 L137.9,74.0 L127.7,73.7 L118.5,68.5 L124.2,51.3 Z M124.2,51.3 L132.8,56.4 L143.6,56.8 M132.8,56.4 L127.7,73.7" fill="none" stroke="#a2a2a2" stroke-width="0.7" stroke-linejoin="round"/>
<path d="M257.4,20.5 L261.3,20.9 L264.5,22.7 L263.8,23.6 L261.8,29.0 L258.2,28.9 L255.0,27.3 L257.0,21.9 Z M257.0,21.9 L260.0,23.5 L263.8,23.6 M260.0,23.5 L258.2,28.9" fill="none" stroke="#555" stroke-width="0.7" stroke-linejoin="round"/>
<path d="M378.8,17.5 L386.5,18.4 L393.0,22.2 L391.7,24.2 L387.7,35.5 L380.5,35.3 L374.0,31.9 L378.0,20.6 Z M378.0,20.6 L384.1,23.9 L391.7,24.2 M384.1,23.9 L380.5,35.3" fill="none" stroke="#555" stroke-width="0.7" stroke-linejoin="round"/>
<rect x="112.5" y="77.0" width="100" height="2.8" rx="1.4" fill="#d4d4d4" stroke="#4a4a4a" stroke-width="0.9"/>
<text x="215.5" y="80.19999999999999" font-size="6.2" font-weight="bold" fill="#444" textLength="21.5" lengthAdjust="spacingAndGlyphs">800nm</text>
<defs><linearGradient id="ipf1" x1="0" y1="0" x2="0" y2="1"><stop offset="0" stop-color="#ff0000"/><stop offset="1" stop-color="#00ff00"/></linearGradient><linearGradient id="ipf2" x1="0" y1="0" x2="1" y2="0"><stop offset="0" stop-color="#ffffff" stop-opacity="0"/><stop offset="1" stop-color="#0000ff"/></linearGradient><radialGradient id="ipfw" cx="0.25" cy="0.65" r="0.45"><stop offset="0" stop-color="#ffffff" stop-opacity="0.9"/><stop offset="1" stop-color="#ffffff" stop-opacity="0"/></radialGradient></defs>
<defs><clipPath id="ipfclip"><path d="M436.3,43.8 L458,65 Q447,68.9 436.3,68.3 Z"/></clipPath></defs>
<g clip-path="url(#ipfclip)" shape-rendering="crispEdges"><rect x="436.00" y="43.50" width="1.05" height="1.05" fill="#ff0006"/><rect x="437.00" y="43.50" width="1.05" height="1.05" fill="#ff0019"/><rect x="438.00" y="43.50" width="1.05" height="1.05" fill="#ff0029"/><rect x="436.00" y="44.50" width="1.05" height="1.05" fill="#ff1406"/><rect x="437.00" y="44.50" width="1.05" height="1.05" fill="#ff011a"/><rect x="438.00" y="44.50" width="1.05" height="1.05" fill="#ff002b"/><rect x="439.00" y="44.50" width="1.05" height="1.05" fill="#ff003a"/><rect x="436.00" y="45.50" width="1.05" height="1.05" fill="#ff2506"/><rect x="437.00" y="45.50" width="1.05" height="1.05" fill="#fe151b"/><rect x="438.00" y="45.50" width="1.05" height="1.05" fill="#ff012c"/><rect x="439.00" y="45.50" width="1.05" height="1.05" fill="#ff003c"/><rect x="440.00" y="45.50" width="1.05" height="1.05" fill="#ff004b"/><rect x="436.00" y="46.50" width="1.05" height="1.05" fill="#ff3506"/><rect x="437.00" y="46.50" width="1.05" height="1.05" fill="#ff271c"/><rect x="438.00" y="46.50" width="1.05" height="1.05" fill="#ff172e"/><rect x="439.00" y="46.50" width="1.05" height="1.05" fill="#ff023e"/><rect x="440.00" y="46.50" width="1.05" height="1.05" fill="#ff004e"/><rect x="441.00" y="46.50" width="1.05" height="1.05" fill="#ff005d"/><rect x="436.00" y="47.50" width="1.05" height="1.05" fill="#ff4506"/><rect x="437.00" y="47.50" width="1.05" height="1.05" fill="#ff381d"/><rect x="438.00" y="47.50" width="1.05" height="1.05" fill="#ff2930"/><rect x="439.00" y="47.50" width="1.05" height="1.05" fill="#ff1841"/><rect x="440.00" y="47.50" width="1.05" height="1.05" fill="#ff0351"/><rect x="441.00" y="47.50" width="1.05" height="1.05" fill="#ff0061"/><rect x="442.00" y="47.50" width="1.05" height="1.05" fill="#ff0071"/><rect x="436.00" y="48.50" width="1.05" height="1.05" fill="#ff5607"/><rect x="437.00" y="48.50" width="1.05" height="1.05" fill="#ff491e"/><rect x="438.00" y="48.50" width="1.05" height="1.05" fill="#ff3b32"/><rect x="439.00" y="48.50" width="1.05" height="1.05" fill="#ff2b44"/><rect x="440.00" y="48.50" width="1.05" height="1.05" fill="#ff1a55"/><rect x="441.00" y="48.50" width="1.05" height="1.05" fill="#ff0465"/><rect x="442.00" y="48.50" width="1.05" height="1.05" fill="#ff0075"/><rect x="443.00" y="48.50" width="1.05" height="1.05" fill="#ff0085"/><rect x="436.00" y="49.50" width="1.05" height="1.05" fill="#ff6807"/><rect x="437.00" y="49.50" width="1.05" height="1.05" fill="#fe5b20"/><rect x="438.00" y="49.50" width="1.05" height="1.05" fill="#fe4d34"/><rect x="439.00" y="49.50" width="1.05" height="1.05" fill="#ff3e47"/><rect x="440.00" y="49.50" width="1.05" height="1.05" fill="#ff2e59"/><rect x="441.00" y="49.50" width="1.05" height="1.05" fill="#ff1c6a"/><rect x="442.00" y="49.50" width="1.05" height="1.05" fill="#fe057b"/><rect x="443.00" y="49.50" width="1.05" height="1.05" fill="#ff008b"/><rect x="444.00" y="49.50" width="1.05" height="1.05" fill="#ff009c"/><rect x="436.00" y="50.50" width="1.05" height="1.05" fill="#ff7b07"/><rect x="437.00" y="50.50" width="1.05" height="1.05" fill="#ff6e21"/><rect x="438.00" y="50.50" width="1.05" height="1.05" fill="#ff6036"/><rect x="439.00" y="50.50" width="1.05" height="1.05" fill="#ff524a"/><rect x="440.00" y="50.50" width="1.05" height="1.05" fill="#fe425d"/><rect x="441.00" y="50.50" width="1.05" height="1.05" fill="#ff316f"/><rect x="442.00" y="50.50" width="1.05" height="1.05" fill="#ff1e81"/><rect x="443.00" y="50.50" width="1.05" height="1.05" fill="#ff0692"/><rect x="444.00" y="50.50" width="1.05" height="1.05" fill="#ff00a4"/><rect x="445.00" y="50.50" width="1.05" height="1.05" fill="#ff00b5"/><rect x="436.00" y="51.50" width="1.05" height="1.05" fill="#ff9008"/><rect x="437.00" y="51.50" width="1.05" height="1.05" fill="#ff8323"/><rect x="438.00" y="51.50" width="1.05" height="1.05" fill="#ff7539"/><rect x="439.00" y="51.50" width="1.05" height="1.05" fill="#ff664e"/><rect x="440.00" y="51.50" width="1.05" height="1.05" fill="#ff5762"/><rect x="441.00" y="51.50" width="1.05" height="1.05" fill="#ff4675"/><rect x="442.00" y="51.50" width="1.05" height="1.05" fill="#ff3488"/><rect x="443.00" y="51.50" width="1.05" height="1.05" fill="#ff209a"/><rect x="444.00" y="51.50" width="1.05" height="1.05" fill="#ff07ac"/><rect x="445.00" y="51.50" width="1.05" height="1.05" fill="#ff00bf"/><rect x="446.00" y="51.50" width="1.05" height="1.05" fill="#ff00d1"/><rect x="436.00" y="52.50" width="1.05" height="1.05" fill="#ffa708"/><rect x="437.00" y="52.50" width="1.05" height="1.05" fill="#ff9925"/><rect x="438.00" y="52.50" width="1.05" height="1.05" fill="#ff8b3c"/><rect x="439.00" y="52.50" width="1.05" height="1.05" fill="#ff7c52"/><rect x="440.00" y="52.50" width="1.05" height="1.05" fill="#ff6d67"/><rect x="441.00" y="52.50" width="1.05" height="1.05" fill="#ff5d7b"/><rect x="442.00" y="52.50" width="1.05" height="1.05" fill="#ff4b8f"/><rect x="443.00" y="52.50" width="1.05" height="1.05" fill="#ff38a3"/><rect x="444.00" y="52.50" width="1.05" height="1.05" fill="#ff23b6"/><rect x="445.00" y="52.50" width="1.05" height="1.05" fill="#ff08c9"/><rect x="446.00" y="52.50" width="1.05" height="1.05" fill="#fe00dd"/><rect x="447.00" y="52.50" width="1.05" height="1.05" fill="#ff00f0"/><rect x="436.00" y="53.50" width="1.05" height="1.05" fill="#ffbf09"/><rect x="437.00" y="53.50" width="1.05" height="1.05" fill="#ffb227"/><rect x="438.00" y="53.50" width="1.05" height="1.05" fill="#ffa440"/><rect x="439.00" y="53.50" width="1.05" height="1.05" fill="#fe9557"/><rect x="440.00" y="53.50" width="1.05" height="1.05" fill="#fe856d"/><rect x="441.00" y="53.50" width="1.05" height="1.05" fill="#ff7582"/><rect x="442.00" y="53.50" width="1.05" height="1.05" fill="#ff6398"/><rect x="443.00" y="53.50" width="1.05" height="1.05" fill="#ff51ac"/><rect x="444.00" y="53.50" width="1.05" height="1.05" fill="#ff3dc1"/><rect x="445.00" y="53.50" width="1.05" height="1.05" fill="#ff26d6"/><rect x="446.00" y="53.50" width="1.05" height="1.05" fill="#ff0aeb"/><rect x="447.00" y="53.50" width="1.05" height="1.05" fill="#fe00ff"/><rect x="448.00" y="53.50" width="1.05" height="1.05" fill="#eb00ff"/><rect x="436.00" y="54.50" width="1.05" height="1.05" fill="#fedb09"/><rect x="437.00" y="54.50" width="1.05" height="1.05" fill="#ffcd29"/><rect x="438.00" y="54.50" width="1.05" height="1.05" fill="#ffbf43"/><rect x="439.00" y="54.50" width="1.05" height="1.05" fill="#ffb05c"/><rect x="440.00" y="54.50" width="1.05" height="1.05" fill="#fea074"/><rect x="441.00" y="54.50" width="1.05" height="1.05" fill="#fe8f8b"/><rect x="442.00" y="54.50" width="1.05" height="1.05" fill="#ff7ea1"/><rect x="443.00" y="54.50" width="1.05" height="1.05" fill="#ff6bb8"/><rect x="444.00" y="54.50" width="1.05" height="1.05" fill="#ff58ce"/><rect x="445.00" y="54.50" width="1.05" height="1.05" fill="#ff42e4"/><rect x="446.00" y="54.50" width="1.05" height="1.05" fill="#ff2afa"/><rect x="447.00" y="54.50" width="1.05" height="1.05" fill="#ed0bff"/><rect x="448.00" y="54.50" width="1.05" height="1.05" fill="#db00ff"/><rect x="449.00" y="54.50" width="1.05" height="1.05" fill="#cc00ff"/><rect x="436.00" y="55.50" width="1.05" height="1.05" fill="#fffa0a"/><rect x="437.00" y="55.50" width="1.05" height="1.05" fill="#feec2c"/><rect x="438.00" y="55.50" width="1.05" height="1.05" fill="#ffdd48"/><rect x="439.00" y="55.50" width="1.05" height="1.05" fill="#ffce62"/><rect x="440.00" y="55.50" width="1.05" height="1.05" fill="#ffbe7c"/><rect x="441.00" y="55.50" width="1.05" height="1.05" fill="#ffad94"/><rect x="442.00" y="55.50" width="1.05" height="1.05" fill="#ff9bad"/><rect x="443.00" y="55.50" width="1.05" height="1.05" fill="#ff89c5"/><rect x="444.00" y="55.50" width="1.05" height="1.05" fill="#ff75dd"/><rect x="445.00" y="55.50" width="1.05" height="1.05" fill="#ff5ff5"/><rect x="446.00" y="55.50" width="1.05" height="1.05" fill="#f144ff"/><rect x="447.00" y="55.50" width="1.05" height="1.05" fill="#dd28ff"/><rect x="448.00" y="55.50" width="1.05" height="1.05" fill="#cc0bff"/><rect x="449.00" y="55.50" width="1.05" height="1.05" fill="#bd00ff"/><rect x="450.00" y="55.50" width="1.05" height="1.05" fill="#b000ff"/><rect x="436.00" y="56.50" width="1.05" height="1.05" fill="#e3ff09"/><rect x="437.00" y="56.50" width="1.05" height="1.05" fill="#efff2c"/><rect x="438.00" y="56.50" width="1.05" height="1.05" fill="#fdfe4d"/><rect x="439.00" y="56.50" width="1.05" height="1.05" fill="#fff06a"/><rect x="440.00" y="56.50" width="1.05" height="1.05" fill="#ffe085"/><rect x="441.00" y="56.50" width="1.05" height="1.05" fill="#fecfa0"/><rect x="442.00" y="56.50" width="1.05" height="1.05" fill="#febdba"/><rect x="443.00" y="56.50" width="1.05" height="1.05" fill="#ffaad4"/><rect x="444.00" y="56.50" width="1.05" height="1.05" fill="#ff96ee"/><rect x="445.00" y="56.50" width="1.05" height="1.05" fill="#f57bff"/><rect x="446.00" y="56.50" width="1.05" height="1.05" fill="#df5cff"/><rect x="447.00" y="56.50" width="1.05" height="1.05" fill="#cc40ff"/><rect x="448.00" y="56.50" width="1.05" height="1.05" fill="#bc26ff"/><rect x="449.00" y="56.50" width="1.05" height="1.05" fill="#ae0bff"/><rect x="450.00" y="56.50" width="1.05" height="1.05" fill="#a200ff"/><rect x="451.00" y="56.50" width="1.05" height="1.05" fill="#9800ff"/><rect x="436.00" y="57.50" width="1.05" height="1.05" fill="#c6ff09"/><rect x="437.00" y="57.50" width="1.05" height="1.05" fill="#d0ff29"/><rect x="438.00" y="57.50" width="1.05" height="1.05" fill="#dbff48"/><rect x="439.00" y="57.50" width="1.05" height="1.05" fill="#e7ff68"/><rect x="440.00" y="57.50" width="1.05" height="1.05" fill="#f6ff8b"/><rect x="441.00" y="57.50" width="1.05" height="1.05" fill="#fff6ad"/><rect x="442.00" y="57.50" width="1.05" height="1.05" fill="#fee4ca"/><rect x="443.00" y="57.50" width="1.05" height="1.05" fill="#ffd0e6"/><rect x="444.00" y="57.50" width="1.05" height="1.05" fill="#fab8ff"/><rect x="445.00" y="57.50" width="1.05" height="1.05" fill="#e192ff"/><rect x="446.00" y="57.50" width="1.05" height="1.05" fill="#cc72ff"/><rect x="447.00" y="57.50" width="1.05" height="1.05" fill="#bb56ff"/><rect x="448.00" y="57.50" width="1.05" height="1.05" fill="#ac3cff"/><rect x="449.00" y="57.50" width="1.05" height="1.05" fill="#9f24ff"/><rect x="450.00" y="57.50" width="1.05" height="1.05" fill="#940bff"/><rect x="451.00" y="57.50" width="1.05" height="1.05" fill="#8a00ff"/><rect x="452.00" y="57.50" width="1.05" height="1.05" fill="#8100ff"/><rect x="436.00" y="58.50" width="1.05" height="1.05" fill="#adff08"/><rect x="437.00" y="58.50" width="1.05" height="1.05" fill="#b4ff27"/><rect x="438.00" y="58.50" width="1.05" height="1.05" fill="#bcff43"/><rect x="439.00" y="58.50" width="1.05" height="1.05" fill="#c6ff61"/><rect x="440.00" y="58.50" width="1.05" height="1.05" fill="#d1ff81"/><rect x="441.00" y="58.50" width="1.05" height="1.05" fill="#ddffa4"/><rect x="442.00" y="58.50" width="1.05" height="1.05" fill="#edffcd"/><rect x="443.00" y="58.50" width="1.05" height="1.05" fill="#fffefd"/><rect x="444.00" y="58.50" width="1.05" height="1.05" fill="#e4d0ff"/><rect x="445.00" y="58.50" width="1.05" height="1.05" fill="#cca9ff"/><rect x="446.00" y="58.50" width="1.05" height="1.05" fill="#b987ff"/><rect x="447.00" y="58.50" width="1.05" height="1.05" fill="#a96aff"/><rect x="448.00" y="58.50" width="1.05" height="1.05" fill="#9b50ff"/><rect x="449.00" y="58.50" width="1.05" height="1.05" fill="#8f39ff"/><rect x="450.00" y="58.50" width="1.05" height="1.05" fill="#8522ff"/><rect x="451.00" y="58.50" width="1.05" height="1.05" fill="#7c0bff"/><rect x="452.00" y="58.50" width="1.05" height="1.05" fill="#7400ff"/><rect x="453.00" y="58.50" width="1.05" height="1.05" fill="#6c00ff"/><rect x="436.00" y="59.50" width="1.05" height="1.05" fill="#96ff08"/><rect x="437.00" y="59.50" width="1.05" height="1.05" fill="#9bff25"/><rect x="438.00" y="59.50" width="1.05" height="1.05" fill="#a1ff3f"/><rect x="439.00" y="59.50" width="1.05" height="1.05" fill="#a8ff5b"/><rect x="440.00" y="59.50" width="1.05" height="1.05" fill="#b0ff78"/><rect x="441.00" y="59.50" width="1.05" height="1.05" fill="#baff98"/><rect x="442.00" y="59.50" width="1.05" height="1.05" fill="#c5ffbd"/><rect x="443.00" y="59.50" width="1.05" height="1.05" fill="#d2ffe7"/><rect x="444.00" y="59.50" width="1.05" height="1.05" fill="#cde7ff"/><rect x="445.00" y="59.50" width="1.05" height="1.05" fill="#b7beff"/><rect x="446.00" y="59.50" width="1.05" height="1.05" fill="#a69cff"/><rect x="447.00" y="59.50" width="1.05" height="1.05" fill="#977eff"/><rect x="448.00" y="59.50" width="1.05" height="1.05" fill="#8a64ff"/><rect x="449.00" y="59.50" width="1.05" height="1.05" fill="#7f4cff"/><rect x="450.00" y="59.50" width="1.05" height="1.05" fill="#7636ff"/><rect x="451.00" y="59.50" width="1.05" height="1.05" fill="#6d21ff"/><rect x="452.00" y="59.50" width="1.05" height="1.05" fill="#660bff"/><rect x="453.00" y="59.50" width="1.05" height="1.05" fill="#5f00ff"/><rect x="454.00" y="59.50" width="1.05" height="1.05" fill="#5900ff"/><rect x="436.00" y="60.50" width="1.05" height="1.05" fill="#81ff08"/><rect x="437.00" y="60.50" width="1.05" height="1.05" fill="#85ff23"/><rect x="438.00" y="60.50" width="1.05" height="1.05" fill="#89ff3c"/><rect x="439.00" y="60.50" width="1.05" height="1.05" fill="#8eff55"/><rect x="440.00" y="60.50" width="1.05" height="1.05" fill="#94ff71"/><rect x="441.00" y="60.50" width="1.05" height="1.05" fill="#9bff8e"/><rect x="442.00" y="60.50" width="1.05" height="1.05" fill="#a2ffaf"/><rect x="443.00" y="60.50" width="1.05" height="1.05" fill="#abffd5"/><rect x="444.00" y="60.50" width="1.05" height="1.05" fill="#b5fdff"/><rect x="445.00" y="60.50" width="1.05" height="1.05" fill="#a2d3ff"/><rect x="446.00" y="60.50" width="1.05" height="1.05" fill="#92afff"/><rect x="447.00" y="60.50" width="1.05" height="1.05" fill="#8491ff"/><rect x="448.00" y="60.50" width="1.05" height="1.05" fill="#7976ff"/><rect x="449.00" y="60.50" width="1.05" height="1.05" fill="#6f5eff"/><rect x="450.00" y="60.50" width="1.05" height="1.05" fill="#6648ff"/><rect x="451.00" y="60.50" width="1.05" height="1.05" fill="#5e33ff"/><rect x="452.00" y="60.50" width="1.05" height="1.05" fill="#5720ff"/><rect x="453.00" y="60.50" width="1.05" height="1.05" fill="#510bff"/><rect x="454.00" y="60.50" width="1.05" height="1.05" fill="#4c00ff"/><rect x="455.00" y="60.50" width="1.05" height="1.05" fill="#4600ff"/><rect x="436.00" y="61.50" width="1.05" height="1.05" fill="#6dff07"/><rect x="437.00" y="61.50" width="1.05" height="1.05" fill="#70ff21"/><rect x="438.00" y="61.50" width="1.05" height="1.05" fill="#73ff39"/><rect x="439.00" y="61.50" width="1.05" height="1.05" fill="#76ff51"/><rect x="440.00" y="61.50" width="1.05" height="1.05" fill="#7afe6a"/><rect x="441.00" y="61.50" width="1.05" height="1.05" fill="#7ffe86"/><rect x="442.00" y="61.50" width="1.05" height="1.05" fill="#84ffa4"/><rect x="443.00" y="61.50" width="1.05" height="1.05" fill="#8affc5"/><rect x="444.00" y="61.50" width="1.05" height="1.05" fill="#91ffec"/><rect x="445.00" y="61.50" width="1.05" height="1.05" fill="#8be7ff"/><rect x="446.00" y="61.50" width="1.05" height="1.05" fill="#7dc2ff"/><rect x="447.00" y="61.50" width="1.05" height="1.05" fill="#71a3ff"/><rect x="448.00" y="61.50" width="1.05" height="1.05" fill="#6788ff"/><rect x="449.00" y="61.50" width="1.05" height="1.05" fill="#5e6fff"/><rect x="450.00" y="61.50" width="1.05" height="1.05" fill="#5659ff"/><rect x="451.00" y="61.50" width="1.05" height="1.05" fill="#4f45ff"/><rect x="452.00" y="61.50" width="1.05" height="1.05" fill="#4931ff"/><rect x="453.00" y="61.50" width="1.05" height="1.05" fill="#431fff"/><rect x="454.00" y="61.50" width="1.05" height="1.05" fill="#3e0bff"/><rect x="455.00" y="61.50" width="1.05" height="1.05" fill="#3900ff"/><rect x="456.00" y="61.50" width="1.05" height="1.05" fill="#3500ff"/><rect x="436.00" y="62.50" width="1.05" height="1.05" fill="#5bff07"/><rect x="437.00" y="62.50" width="1.05" height="1.05" fill="#5dff20"/><rect x="438.00" y="62.50" width="1.05" height="1.05" fill="#5fff36"/><rect x="439.00" y="62.50" width="1.05" height="1.05" fill="#61ff4d"/><rect x="440.00" y="62.50" width="1.05" height="1.05" fill="#63ff64"/><rect x="441.00" y="62.50" width="1.05" height="1.05" fill="#66ff7e"/><rect x="442.00" y="62.50" width="1.05" height="1.05" fill="#69fe9a"/><rect x="443.00" y="62.50" width="1.05" height="1.05" fill="#6dffb8"/><rect x="444.00" y="62.50" width="1.05" height="1.05" fill="#71ffdb"/><rect x="445.00" y="62.50" width="1.05" height="1.05" fill="#74fbff"/><rect x="446.00" y="62.50" width="1.05" height="1.05" fill="#67d5ff"/><rect x="447.00" y="62.50" width="1.05" height="1.05" fill="#5db5ff"/><rect x="448.00" y="62.50" width="1.05" height="1.05" fill="#5499ff"/><rect x="449.00" y="62.50" width="1.05" height="1.05" fill="#4c80ff"/><rect x="450.00" y="62.50" width="1.05" height="1.05" fill="#4569ff"/><rect x="451.00" y="62.50" width="1.05" height="1.05" fill="#3e55ff"/><rect x="452.00" y="62.50" width="1.05" height="1.05" fill="#3941ff"/><rect x="453.00" y="62.50" width="1.05" height="1.05" fill="#342fff"/><rect x="454.00" y="62.50" width="1.05" height="1.05" fill="#2f1eff"/><rect x="455.00" y="62.50" width="1.05" height="1.05" fill="#2b0bff"/><rect x="456.00" y="62.50" width="1.05" height="1.05" fill="#2700ff"/><rect x="457.00" y="62.50" width="1.05" height="1.05" fill="#2400ff"/><rect x="436.00" y="63.50" width="1.05" height="1.05" fill="#4aff07"/><rect x="437.00" y="63.50" width="1.05" height="1.05" fill="#4aff1e"/><rect x="438.00" y="63.50" width="1.05" height="1.05" fill="#4bff34"/><rect x="439.00" y="63.50" width="1.05" height="1.05" fill="#4cff49"/><rect x="440.00" y="63.50" width="1.05" height="1.05" fill="#4dff5f"/><rect x="441.00" y="63.50" width="1.05" height="1.05" fill="#4fff77"/><rect x="442.00" y="63.50" width="1.05" height="1.05" fill="#50ff91"/><rect x="443.00" y="63.50" width="1.05" height="1.05" fill="#52ffad"/><rect x="444.00" y="63.50" width="1.05" height="1.05" fill="#54ffcc"/><rect x="445.00" y="63.50" width="1.05" height="1.05" fill="#56feef"/><rect x="446.00" y="63.50" width="1.05" height="1.05" fill="#51e8ff"/><rect x="447.00" y="63.50" width="1.05" height="1.05" fill="#47c6ff"/><rect x="448.00" y="63.50" width="1.05" height="1.05" fill="#3fa9ff"/><rect x="449.00" y="63.50" width="1.05" height="1.05" fill="#3990ff"/><rect x="450.00" y="63.50" width="1.05" height="1.05" fill="#3279ff"/><rect x="451.00" y="63.50" width="1.05" height="1.05" fill="#2d64ff"/><rect x="452.00" y="63.50" width="1.05" height="1.05" fill="#2851ff"/><rect x="453.00" y="63.50" width="1.05" height="1.05" fill="#243fff"/><rect x="454.00" y="63.50" width="1.05" height="1.05" fill="#1f2eff"/><rect x="455.00" y="63.50" width="1.05" height="1.05" fill="#1c1dff"/><rect x="456.00" y="63.50" width="1.05" height="1.05" fill="#180bff"/><rect x="457.00" y="63.50" width="1.05" height="1.05" fill="#1500ff"/><rect x="458.00" y="63.50" width="1.05" height="1.05" fill="#1200ff"/><rect x="436.00" y="64.50" width="1.05" height="1.05" fill="#39ff06"/><rect x="437.00" y="64.50" width="1.05" height="1.05" fill="#39ff1d"/><rect x="438.00" y="64.50" width="1.05" height="1.05" fill="#39fe31"/><rect x="439.00" y="64.50" width="1.05" height="1.05" fill="#39ff46"/><rect x="440.00" y="64.50" width="1.05" height="1.05" fill="#39ff5b"/><rect x="441.00" y="64.50" width="1.05" height="1.05" fill="#39ff71"/><rect x="442.00" y="64.50" width="1.05" height="1.05" fill="#39ff89"/><rect x="443.00" y="64.50" width="1.05" height="1.05" fill="#39ffa3"/><rect x="444.00" y="64.50" width="1.05" height="1.05" fill="#39ffc0"/><rect x="445.00" y="64.50" width="1.05" height="1.05" fill="#39ffe0"/><rect x="446.00" y="64.50" width="1.05" height="1.05" fill="#38faff"/><rect x="447.00" y="64.50" width="1.05" height="1.05" fill="#30d7ff"/><rect x="448.00" y="64.50" width="1.05" height="1.05" fill="#29b9ff"/><rect x="449.00" y="64.50" width="1.05" height="1.05" fill="#249fff"/><rect x="450.00" y="64.50" width="1.05" height="1.05" fill="#1e88ff"/><rect x="451.00" y="64.50" width="1.05" height="1.05" fill="#1973ff"/><rect x="452.00" y="64.50" width="1.05" height="1.05" fill="#155fff"/><rect x="453.00" y="64.50" width="1.05" height="1.05" fill="#114dff"/><rect x="454.00" y="64.50" width="1.05" height="1.05" fill="#0d3cff"/><rect x="455.00" y="64.50" width="1.05" height="1.05" fill="#0a2cff"/><rect x="456.00" y="64.50" width="1.05" height="1.05" fill="#061cff"/><rect x="457.00" y="64.50" width="1.05" height="1.05" fill="#020bff"/><rect x="458.00" y="64.50" width="1.05" height="1.05" fill="#0000ff"/><rect x="436.00" y="65.50" width="1.05" height="1.05" fill="#29ff06"/><rect x="437.00" y="65.50" width="1.05" height="1.05" fill="#28ff1c"/><rect x="438.00" y="65.50" width="1.05" height="1.05" fill="#27ff2f"/><rect x="439.00" y="65.50" width="1.05" height="1.05" fill="#26ff43"/><rect x="440.00" y="65.50" width="1.05" height="1.05" fill="#25ff57"/><rect x="441.00" y="65.50" width="1.05" height="1.05" fill="#24ff6c"/><rect x="442.00" y="65.50" width="1.05" height="1.05" fill="#23ff82"/><rect x="443.00" y="65.50" width="1.05" height="1.05" fill="#21ff9a"/><rect x="444.00" y="65.50" width="1.05" height="1.05" fill="#1fffb5"/><rect x="445.00" y="65.50" width="1.05" height="1.05" fill="#1dffd2"/><rect x="446.00" y="65.50" width="1.05" height="1.05" fill="#1bfff2"/><rect x="447.00" y="65.50" width="1.05" height="1.05" fill="#16e8ff"/><rect x="448.00" y="65.50" width="1.05" height="1.05" fill="#10c9ff"/><rect x="449.00" y="65.50" width="1.05" height="1.05" fill="#0aaeff"/><rect x="450.00" y="65.50" width="1.05" height="1.05" fill="#0596ff"/><rect x="451.00" y="65.50" width="1.05" height="1.05" fill="#0081ff"/><rect x="452.00" y="65.50" width="1.05" height="1.05" fill="#006dff"/><rect x="453.00" y="65.50" width="1.05" height="1.05" fill="#005bff"/><rect x="454.00" y="65.50" width="1.05" height="1.05" fill="#004aff"/><rect x="455.00" y="65.50" width="1.05" height="1.05" fill="#003aff"/><rect x="456.00" y="65.50" width="1.05" height="1.05" fill="#002bff"/><rect x="457.00" y="65.50" width="1.05" height="1.05" fill="#001bff"/><rect x="436.00" y="66.50" width="1.05" height="1.05" fill="#19ff06"/><rect x="437.00" y="66.50" width="1.05" height="1.05" fill="#17ff1b"/><rect x="438.00" y="66.50" width="1.05" height="1.05" fill="#15ff2e"/><rect x="439.00" y="66.50" width="1.05" height="1.05" fill="#13ff40"/><rect x="440.00" y="66.50" width="1.05" height="1.05" fill="#11ff53"/><rect x="441.00" y="66.50" width="1.05" height="1.05" fill="#0eff67"/><rect x="442.00" y="66.50" width="1.05" height="1.05" fill="#0bff7c"/><rect x="443.00" y="66.50" width="1.05" height="1.05" fill="#07ff93"/><rect x="444.00" y="66.50" width="1.05" height="1.05" fill="#02ffab"/><rect x="445.00" y="66.50" width="1.05" height="1.05" fill="#00ffc6"/><rect x="446.00" y="66.50" width="1.05" height="1.05" fill="#00ffe4"/><rect x="447.00" y="66.50" width="1.05" height="1.05" fill="#00f8ff"/><rect x="448.00" y="66.50" width="1.05" height="1.05" fill="#00d9ff"/><rect x="449.00" y="66.50" width="1.05" height="1.05" fill="#00bdff"/><rect x="450.00" y="66.50" width="1.05" height="1.05" fill="#00a5ff"/><rect x="451.00" y="66.50" width="1.05" height="1.05" fill="#008fff"/><rect x="452.00" y="66.50" width="1.05" height="1.05" fill="#007bff"/><rect x="453.00" y="66.50" width="1.05" height="1.05" fill="#0068ff"/><rect x="454.00" y="66.50" width="1.05" height="1.05" fill="#0057ff"/><rect x="436.00" y="67.50" width="1.05" height="1.05" fill="#07ff06"/><rect x="437.00" y="67.50" width="1.05" height="1.05" fill="#03ff1a"/><rect x="438.00" y="67.50" width="1.05" height="1.05" fill="#00ff2c"/><rect x="439.00" y="67.50" width="1.05" height="1.05" fill="#00ff3e"/><rect x="440.00" y="67.50" width="1.05" height="1.05" fill="#00ff50"/><rect x="441.00" y="67.50" width="1.05" height="1.05" fill="#00fe63"/><rect x="442.00" y="67.50" width="1.05" height="1.05" fill="#00ff77"/><rect x="443.00" y="67.50" width="1.05" height="1.05" fill="#00ff8c"/><rect x="444.00" y="67.50" width="1.05" height="1.05" fill="#00ffa3"/><rect x="445.00" y="67.50" width="1.05" height="1.05" fill="#00ffbb"/><rect x="446.00" y="67.50" width="1.05" height="1.05" fill="#00ffd7"/><rect x="447.00" y="67.50" width="1.05" height="1.05" fill="#00fff5"/><rect x="448.00" y="67.50" width="1.05" height="1.05" fill="#00e8ff"/><rect x="449.00" y="67.50" width="1.05" height="1.05" fill="#00ccff"/><rect x="450.00" y="67.50" width="1.05" height="1.05" fill="#00b3ff"/><rect x="436.00" y="68.50" width="1.05" height="1.05" fill="#00ff05"/><rect x="437.00" y="68.50" width="1.05" height="1.05" fill="#00ff19"/><rect x="438.00" y="68.50" width="1.05" height="1.05" fill="#00ff2a"/><rect x="439.00" y="68.50" width="1.05" height="1.05" fill="#00ff3b"/><rect x="440.00" y="68.50" width="1.05" height="1.05" fill="#00ff4d"/><rect x="441.00" y="68.50" width="1.05" height="1.05" fill="#00ff5f"/><rect x="442.00" y="68.50" width="1.05" height="1.05" fill="#00ff72"/><rect x="443.00" y="68.50" width="1.05" height="1.05" fill="#00ff86"/><rect x="444.00" y="68.50" width="1.05" height="1.05" fill="#00ff9b"/></g>
<path d="M458,65 Q447,68.9 436.3,68.3 L436.3,43.8" fill="none" stroke="#333" stroke-width="0.5"/>
<text x="434" y="30.4" font-size="9.6" fill="#222" text-anchor="start" font-weight="normal" stroke="#222" stroke-width="0.2" textLength="26" lengthAdjust="spacingAndGlyphs">Zr-FCC</text>
<text x="430.8" y="41.2" font-size="6.6" fill="#222" text-anchor="start" font-weight="normal" stroke="#222" stroke-width="0.15">001</text>
<text x="431" y="76.6" font-size="6.6" fill="#222" text-anchor="start" font-weight="normal" stroke="#222" stroke-width="0.15">101</text>
<text x="458.2" y="73" font-size="6.6" fill="#222" text-anchor="start" font-weight="normal" stroke="#222" stroke-width="0.15">111</text>
<line x1="175.2" y1="101.4" x2="175.2" y2="198.8" stroke="#e2e2e2" stroke-width="0.8" />
<line x1="207.8" y1="101.4" x2="207.8" y2="198.8" stroke="#e2e2e2" stroke-width="0.8" />
<line x1="240.4" y1="101.4" x2="240.4" y2="198.8" stroke="#e2e2e2" stroke-width="0.8" />
<line x1="273.0" y1="101.4" x2="273.0" y2="198.8" stroke="#e2e2e2" stroke-width="0.8" />
<line x1="305.6" y1="101.4" x2="305.6" y2="198.8" stroke="#e2e2e2" stroke-width="0.8" />
<line x1="142.6" y1="166.3" x2="320.2" y2="166.3" stroke="#e2e2e2" stroke-width="0.8" />
<line x1="142.6" y1="133.9" x2="320.2" y2="133.9" stroke="#e2e2e2" stroke-width="0.8" />
<rect x="142.6" y="101.4" width="177.6" height="97.4" fill="none" stroke="#c4c4c4" stroke-width="0.9"/>
<line x1="142.6" y1="198.8" x2="142.6" y2="200.8" stroke="#999" stroke-width="0.8" />
<line x1="175.2" y1="198.8" x2="175.2" y2="200.8" stroke="#999" stroke-width="0.8" />
<line x1="207.8" y1="198.8" x2="207.8" y2="200.8" stroke="#999" stroke-width="0.8" />
<line x1="240.4" y1="198.8" x2="240.4" y2="200.8" stroke="#999" stroke-width="0.8" />
<line x1="273.0" y1="198.8" x2="273.0" y2="200.8" stroke="#999" stroke-width="0.8" />
<line x1="305.6" y1="198.8" x2="305.6" y2="200.8" stroke="#999" stroke-width="0.8" />
<line x1="140.6" y1="198.8" x2="142.6" y2="198.8" stroke="#999" stroke-width="0.8" />
<line x1="140.6" y1="166.3" x2="142.6" y2="166.3" stroke="#999" stroke-width="0.8" />
<line x1="140.6" y1="133.9" x2="142.6" y2="133.9" stroke="#999" stroke-width="0.8" />
<line x1="140.6" y1="101.4" x2="142.6" y2="101.4" stroke="#999" stroke-width="0.8" />
<line x1="149.1" y1="198.8" x2="149.1" y2="200.1" stroke="#b0b0b0" stroke-width="0.7" />
<line x1="155.6" y1="198.8" x2="155.6" y2="200.1" stroke="#b0b0b0" stroke-width="0.7" />
<line x1="162.2" y1="198.8" x2="162.2" y2="200.1" stroke="#b0b0b0" stroke-width="0.7" />
<line x1="168.7" y1="198.8" x2="168.7" y2="200.1" stroke="#b0b0b0" stroke-width="0.7" />
<line x1="181.7" y1="198.8" x2="181.7" y2="200.1" stroke="#b0b0b0" stroke-width="0.7" />
<line x1="188.2" y1="198.8" x2="188.2" y2="200.1" stroke="#b0b0b0" stroke-width="0.7" />
<line x1="194.8" y1="198.8" x2="194.8" y2="200.1" stroke="#b0b0b0" stroke-width="0.7" />
<line x1="201.3" y1="198.8" x2="201.3" y2="200.1" stroke="#b0b0b0" stroke-width="0.7" />
<line x1="214.3" y1="198.8" x2="214.3" y2="200.1" stroke="#b0b0b0" stroke-width="0.7" />
<line x1="220.8" y1="198.8" x2="220.8" y2="200.1" stroke="#b0b0b0" stroke-width="0.7" />
<line x1="227.4" y1="198.8" x2="227.4" y2="200.1" stroke="#b0b0b0" stroke-width="0.7" />
<line x1="233.9" y1="198.8" x2="233.9" y2="200.1" stroke="#b0b0b0" stroke-width="0.7" />
<line x1="246.9" y1="198.8" x2="246.9" y2="200.1" stroke="#b0b0b0" stroke-width="0.7" />
<line x1="253.4" y1="198.8" x2="253.4" y2="200.1" stroke="#b0b0b0" stroke-width="0.7" />
<line x1="260.0" y1="198.8" x2="260.0" y2="200.1" stroke="#b0b0b0" stroke-width="0.7" />
<line x1="266.5" y1="198.8" x2="266.5" y2="200.1" stroke="#b0b0b0" stroke-width="0.7" />
<line x1="279.5" y1="198.8" x2="279.5" y2="200.1" stroke="#b0b0b0" stroke-width="0.7" />
<line x1="286.0" y1="198.8" x2="286.0" y2="200.1" stroke="#b0b0b0" stroke-width="0.7" />
<line x1="292.6" y1="198.8" x2="292.6" y2="200.1" stroke="#b0b0b0" stroke-width="0.7" />
<line x1="299.1" y1="198.8" x2="299.1" y2="200.1" stroke="#b0b0b0" stroke-width="0.7" />
<line x1="312.1" y1="198.8" x2="312.1" y2="200.1" stroke="#b0b0b0" stroke-width="0.7" />
<line x1="318.6" y1="198.8" x2="318.6" y2="200.1" stroke="#b0b0b0" stroke-width="0.7" />
<line x1="141.4" y1="182.6" x2="142.6" y2="182.6" stroke="#bbb" stroke-width="0.6" />
<line x1="141.4" y1="150.1" x2="142.6" y2="150.1" stroke="#bbb" stroke-width="0.6" />
<line x1="141.4" y1="117.7" x2="142.6" y2="117.7" stroke="#bbb" stroke-width="0.6" />
<path d="M142.6,198.8 C143.7,198.5 146.9,197.1 149.1,196.9 C151.3,196.8 153.5,197.7 155.6,197.7 C157.8,197.7 160.0,197.0 162.2,196.9 C164.3,196.8 166.5,197.0 168.7,197.0 C170.9,197.1 173.0,196.9 175.2,197.0 C177.4,197.2 179.5,198.2 181.7,198.2 C183.9,198.2 186.1,197.3 188.2,197.0 C190.4,196.8 192.6,196.3 194.8,196.5 C196.9,196.7 200.2,197.9 201.3,198.2 L227.4,103.9 L233.2,196.5 C234.4,196.5 238.1,196.7 240.4,196.9 C242.7,197.2 245.8,197.9 246.9,198.1 L260.0,101.9 L266.5,197.6 C267.6,197.4 270.8,196.6 273.0,196.5 C275.2,196.3 277.3,196.5 279.5,196.7 C281.7,196.9 283.9,197.9 286.0,197.9 C288.2,197.8 291.5,196.7 292.6,196.5 L305.6,103.0 L312.1,197.6 C313.2,197.7 317.6,198.1 318.6,198.2" fill="none" stroke="#3fa7a7" stroke-width="1.1" stroke-linejoin="round"/>
<text x="139.6" y="201.9" font-size="8.8" fill="#222" text-anchor="end" font-weight="normal" stroke="#222" stroke-width="0.2" textLength="4.3" lengthAdjust="spacingAndGlyphs">0</text>
<text x="139.6" y="169.44" font-size="8.8" fill="#222" text-anchor="end" font-weight="normal" stroke="#222" stroke-width="0.2" textLength="8.6" lengthAdjust="spacingAndGlyphs">20</text>
<text x="139.6" y="136.98" font-size="8.8" fill="#222" text-anchor="end" font-weight="normal" stroke="#222" stroke-width="0.2" textLength="8.6" lengthAdjust="spacingAndGlyphs">40</text>
<text x="139.6" y="104.52000000000001" font-size="8.8" fill="#222" text-anchor="end" font-weight="normal" stroke="#222" stroke-width="0.2" textLength="8.6" lengthAdjust="spacingAndGlyphs">60</text>
<text x="142.6" y="210.6" font-size="8.8" fill="#222" text-anchor="middle" font-weight="normal" stroke="#222" stroke-width="0.2" textLength="4.3" lengthAdjust="spacingAndGlyphs">0</text>
<text x="175.2" y="210.6" font-size="8.8" fill="#222" text-anchor="middle" font-weight="normal" stroke="#222" stroke-width="0.2" textLength="15" lengthAdjust="spacingAndGlyphs">0.05</text>
<text x="207.8" y="210.6" font-size="8.8" fill="#222" text-anchor="middle" font-weight="normal" stroke="#222" stroke-width="0.2" textLength="10.8" lengthAdjust="spacingAndGlyphs">0.1</text>
<text x="240.39999999999998" y="210.6" font-size="8.8" fill="#222" text-anchor="middle" font-weight="normal" stroke="#222" stroke-width="0.2" textLength="15" lengthAdjust="spacingAndGlyphs">0.15</text>
<text x="273.0" y="210.6" font-size="8.8" fill="#222" text-anchor="middle" font-weight="normal" stroke="#222" stroke-width="0.2" textLength="10.8" lengthAdjust="spacingAndGlyphs">0.2</text>
<text x="305.6" y="210.6" font-size="8.8" fill="#222" text-anchor="middle" font-weight="normal" stroke="#222" stroke-width="0.2" textLength="15" lengthAdjust="spacingAndGlyphs">0.25</text>
<text x="232.2" y="222.5" font-size="11" fill="#222" text-anchor="middle" font-weight="normal" stroke="#222" stroke-width="0.2" textLength="60" lengthAdjust="spacingAndGlyphs">Distance /µm</text>
<text x="0" y="0" font-size="11" fill="#222" stroke="#222" stroke-width="0.2" text-anchor="middle" transform="translate(127.3,150) rotate(-90)" textLength="77" lengthAdjust="spacingAndGlyphs">Misorientation /°</text>
<defs><linearGradient id="cbar" x1="0" y1="0" x2="0" y2="1"><stop offset="0" stop-color="#ff0000"/><stop offset="0.08" stop-color="#ff2200"/><stop offset="0.22" stop-color="#ff8800"/><stop offset="0.4" stop-color="#ffee00"/><stop offset="0.5" stop-color="#bbff00"/><stop offset="0.62" stop-color="#22ee00"/><stop offset="0.74" stop-color="#00cc22"/><stop offset="0.84" stop-color="#008888"/><stop offset="0.93" stop-color="#0022ee"/><stop offset="1" stop-color="#0000ff"/></linearGradient><radialGradient id="hot" cx="438.4" cy="201.2" r="17" gradientUnits="userSpaceOnUse"><stop offset="0" stop-color="#ff0000"/><stop offset="0.2" stop-color="#ff4400"/><stop offset="0.4" stop-color="#ffee00"/><stop offset="0.65" stop-color="#22dd00"/><stop offset="0.85" stop-color="#0044ff" /><stop offset="1" stop-color="#0000ff" stop-opacity="0"/></radialGradient></defs>
<path d="M345.5,199.9 A90.7,90.7 0 0 0 409.8,174.2 L438.4,201.2 Q395,214 345.5,217.6 Z" fill="#0000ff"/>
<path d="M409.8,174.2 L438.4,201.2 Q425,205.5 410,208 Z" fill="url(#hot)"/>
<path d="M345.5,109.4 L438.4,201.2 Q395,214 345.5,217.6 Z" fill="none" stroke="#3e3e70" stroke-width="1.0"/>
<rect x="457.2" y="98.2" width="9.9" height="119.8" fill="url(#cbar)" stroke="#555" stroke-width="0.4"/>
<text x="363" y="95.3" font-size="5.2" fill="#333" text-anchor="start" font-weight="normal" >55–60° - Zr-FCC</text>
<text x="340.6" y="107.9" font-size="5.8" fill="#333" text-anchor="start" font-weight="normal" >001</text>
<text x="438.8" y="207.2" font-size="5.8" fill="#333" text-anchor="start" font-weight="normal" >111</text>
<text x="455" y="96.2" font-size="5.8" fill="#333" text-anchor="start" font-weight="normal" textLength="14.2" lengthAdjust="spacingAndGlyphs">94.54</text>
<text x="456.8" y="226.6" font-size="5.8" fill="#333" text-anchor="start" font-weight="normal" textLength="10.5" lengthAdjust="spacingAndGlyphs">0.00</text>
<defs><radialGradient id="sb" cx="0.5" cy="0.48" r="0.55"><stop offset="0" stop-color="#dcdcff"/><stop offset="0.18" stop-color="#7070ff"/><stop offset="0.45" stop-color="#1010f4"/><stop offset="0.8" stop-color="#0000c8"/><stop offset="1" stop-color="#00006a"/></radialGradient><radialGradient id="sr" cx="0.5" cy="0.48" r="0.55"><stop offset="0" stop-color="#ffd8d0"/><stop offset="0.18" stop-color="#ff6060"/><stop offset="0.45" stop-color="#f01010"/><stop offset="0.8" stop-color="#d00000"/><stop offset="1" stop-color="#7a0000"/></radialGradient><linearGradient id="halfb" x1="0" y1="0" x2="0" y2="1"><stop offset="0.58" stop-color="#e8e040" stop-opacity="0"/><stop offset="0.58" stop-color="#e8e040" stop-opacity="0.5"/></linearGradient></defs>
<polygon points="48.7,265.5 57.0,268.5 138.0,309.0 48.0,295.2 40.7,289.5" fill="#f6f030" stroke="none" stroke-width="1" opacity="0.8"/>
<line x1="90.5" y1="253.3" x2="57.1" y2="269.1" stroke="#333333" stroke-width="0.9" />
<line x1="90.5" y1="253.3" x2="48.8" y2="291.3" stroke="#333333" stroke-width="0.9" />
<line x1="90.5" y1="253.3" x2="130.4" y2="305.7" stroke="#333333" stroke-width="0.9" />
<line x1="57.1" y1="269.1" x2="15.5" y2="306.6" stroke="#333333" stroke-width="0.9" />
<line x1="57.1" y1="269.1" x2="94.0" y2="319.8" stroke="#333333" stroke-width="0.9" />
<line x1="48.8" y1="291.3" x2="15.5" y2="306.6" stroke="#333333" stroke-width="0.9" />
<line x1="48.8" y1="291.3" x2="90.2" y2="345.8" stroke="#333333" stroke-width="0.9" />
<line x1="15.5" y1="306.6" x2="55.2" y2="357.4" stroke="#333333" stroke-width="0.9" />
<line x1="130.4" y1="305.7" x2="94.0" y2="319.8" stroke="#333333" stroke-width="0.9" />
<line x1="130.4" y1="305.7" x2="90.2" y2="345.8" stroke="#333333" stroke-width="0.9" />
<line x1="94.0" y1="319.8" x2="55.2" y2="357.4" stroke="#333333" stroke-width="0.9" />
<line x1="90.2" y1="345.8" x2="55.2" y2="357.4" stroke="#333333" stroke-width="0.9" />
<circle cx="90.5" cy="253.3" r="4.9" fill="url(#sb)"/>
<circle cx="94.0" cy="319.8" r="4.9" fill="url(#sb)"/>
<circle cx="55.9" cy="313.2" r="4.9" fill="url(#sb)"/>
<circle cx="52.1" cy="324.5" r="4.9" fill="url(#sb)"/>
<circle cx="92.3" cy="332.2" r="4.9" fill="url(#sb)"/>
<circle cx="90.2" cy="345.8" r="4.9" fill="url(#sb)"/>
<circle cx="55.2" cy="357.4" r="4.9" fill="url(#sb)"/>
<circle cx="15.5" cy="306.6" r="4.9" fill="url(#sb)"/>
<circle cx="57.1" cy="269.1" r="4.9" fill="url(#sb)"/>
<circle cx="57.1" cy="269.1" r="4.9" fill="url(#halfb)"/>
<circle cx="52.9" cy="279.6" r="4.9" fill="url(#sb)"/>
<circle cx="52.9" cy="279.6" r="4.9" fill="url(#halfb)"/>
<circle cx="48.8" cy="291.3" r="4.9" fill="url(#sb)"/>
<circle cx="48.8" cy="291.3" r="4.9" fill="url(#halfb)"/>
<circle cx="92.8" cy="287.6" r="4.9" fill="url(#sb)"/>
<circle cx="92.8" cy="287.6" r="4.9" fill="url(#halfb)"/>
<circle cx="90.5" cy="299.2" r="4.9" fill="url(#sb)"/>
<circle cx="90.5" cy="299.2" r="4.9" fill="url(#halfb)"/>
<circle cx="130.4" cy="305.7" r="4.9" fill="url(#sb)"/>
<circle cx="130.4" cy="305.7" r="4.9" fill="url(#halfb)"/>
<line x1="57.1" y1="269.1" x2="168.8" y2="325.0" stroke="#2020d0" stroke-width="1.3" />
<g transform="translate(26.0,267.2) rotate(19)"><rect x="-18.0" y="-8.65" width="36" height="17.3" fill="#f8f64a"/><text x="0" y="4.9" font-size="13.5" font-weight="bold" fill="#2f3cff" stroke="#1a2380" stroke-width="0.4" text-anchor="middle" textLength="27" lengthAdjust="spacingAndGlyphs">(1<tspan text-decoration="overline">1</tspan>1)</text></g>
<text x="0" y="0" font-size="11.6" fill="#1a1aee" stroke="#1a1aee" stroke-width="0.3" text-anchor="middle" transform="translate(158.3,338.0) rotate(-62)" dy="4.1">[<tspan text-decoration="overline">1</tspan>01]</text>
<polygon points="7.0,376.3 25.0,359.6 40.0,353.3 20.0,372.5" fill="#0a0ad8" stroke="none" stroke-width="1" />
<polygon points="20.0,372.5 40.0,353.3 57.4,375.8 40.0,396.9" fill="#0000ff" stroke="none" stroke-width="1" />
<polygon points="7.0,376.3 20.0,372.5 40.0,396.9 25.0,397.4" fill="#00005a" stroke="none" stroke-width="1" />
<line x1="15.8" y1="355.8" x2="22.5" y2="365.0" stroke="#cc3333" stroke-width="0.6" />
<line x1="31.6" y1="347.5" x2="31.6" y2="355.8" stroke="#888" stroke-width="0.6" />
<line x1="21.6" y1="387.4" x2="14.1" y2="394.0" stroke="#33aa33" stroke-width="0.6" stroke-dasharray="1.5,1"/>
<text x="14.5" y="357" font-size="2.6" fill="#cc3333">a</text>
<text x="13" y="395.5" font-size="2.6" fill="#33aa33">b</text>
<text x="58" y="377" font-size="2.6" fill="#666">x</text>
<line x1="227.8" y1="246.8" x2="203.0" y2="318.6" stroke="#333333" stroke-width="0.75" />
<line x1="270.3" y1="257.1" x2="245.5" y2="328.9" stroke="#333333" stroke-width="0.75" />
<line x1="306.4" y1="275.5" x2="281.6" y2="347.3" stroke="#333333" stroke-width="0.75" />
<line x1="300.0" y1="283.6" x2="275.2" y2="355.4" stroke="#333333" stroke-width="0.75" />
<line x1="257.5" y1="273.3" x2="232.7" y2="345.1" stroke="#333333" stroke-width="0.75" />
<line x1="221.4" y1="254.9" x2="196.6" y2="326.7" stroke="#333333" stroke-width="0.75" />
<line x1="227.8" y1="246.8" x2="270.3" y2="257.1" stroke="#333333" stroke-width="0.75" />
<line x1="270.3" y1="257.1" x2="306.4" y2="275.5" stroke="#333333" stroke-width="0.75" />
<line x1="306.4" y1="275.5" x2="300.0" y2="283.6" stroke="#333333" stroke-width="0.75" />
<line x1="300.0" y1="283.6" x2="257.5" y2="273.3" stroke="#333333" stroke-width="0.75" />
<line x1="257.5" y1="273.3" x2="221.4" y2="254.9" stroke="#333333" stroke-width="0.75" />
<line x1="221.4" y1="254.9" x2="227.8" y2="246.8" stroke="#333333" stroke-width="0.75" />
<polygon points="198.7,316.4 246.3,327.9 286.7,348.5 279.5,357.6 231.9,346.1 191.5,325.5" fill="#f4ee50" stroke="none" stroke-width="1" opacity="0.7"/>
<polygon points="186.8,310.3 248.4,325.3 300.7,351.9 291.4,363.7 229.8,348.7 177.5,322.1" fill="none" stroke="#f4f0a0" stroke-width="0.5" />
<line x1="203.0" y1="318.6" x2="245.5" y2="328.9" stroke="#8a8440" stroke-width="0.6" />
<line x1="245.5" y1="328.9" x2="281.6" y2="347.3" stroke="#8a8440" stroke-width="0.6" />
<line x1="281.6" y1="347.3" x2="275.2" y2="355.4" stroke="#8a8440" stroke-width="0.6" />
<line x1="275.2" y1="355.4" x2="232.7" y2="345.1" stroke="#8a8440" stroke-width="0.6" />
<line x1="232.7" y1="345.1" x2="196.6" y2="326.7" stroke="#8a8440" stroke-width="0.6" />
<line x1="196.6" y1="326.7" x2="203.0" y2="318.6" stroke="#8a8440" stroke-width="0.6" />
<circle cx="227.8" cy="246.8" r="4.5" fill="url(#sr)"/>
<circle cx="270.3" cy="257.1" r="4.5" fill="url(#sr)"/>
<circle cx="306.4" cy="275.5" r="4.5" fill="url(#sr)"/>
<circle cx="300.0" cy="283.6" r="4.5" fill="url(#sr)"/>
<circle cx="257.5" cy="273.3" r="4.5" fill="url(#sr)"/>
<circle cx="221.4" cy="254.9" r="4.5" fill="url(#sr)"/>
<circle cx="263.9" cy="265.2" r="4.5" fill="url(#sr)"/>
<circle cx="224.9" cy="291.6" r="4.5" fill="url(#sr)"/>
<circle cx="268.4" cy="301.7" r="4.5" fill="url(#sr)"/>
<circle cx="261.6" cy="310.1" r="4.5" fill="url(#sr)"/>
<defs><linearGradient id="half" x1="0" y1="0" x2="0" y2="1"><stop offset="0.5" stop-color="#ffffff" stop-opacity="0"/><stop offset="0.5" stop-color="#ffcc20" stop-opacity="0.8"/></linearGradient></defs>
<circle cx="203.0" cy="318.6" r="4.5" fill="url(#sr)"/>
<circle cx="203.0" cy="318.6" r="4.5" fill="url(#half)"/>
<circle cx="245.5" cy="328.9" r="4.5" fill="url(#sr)"/>
<circle cx="245.5" cy="328.9" r="4.5" fill="url(#half)"/>
<circle cx="281.6" cy="347.3" r="4.5" fill="url(#sr)"/>
<circle cx="281.6" cy="347.3" r="4.5" fill="url(#half)"/>
<circle cx="275.2" cy="355.4" r="4.5" fill="url(#sr)"/>
<circle cx="275.2" cy="355.4" r="4.5" fill="url(#half)"/>
<circle cx="232.7" cy="345.1" r="4.5" fill="url(#sr)"/>
<circle cx="232.7" cy="345.1" r="4.5" fill="url(#half)"/>
<circle cx="196.6" cy="326.7" r="4.5" fill="url(#sr)"/>
<circle cx="196.6" cy="326.7" r="4.5" fill="url(#half)"/>
<circle cx="239.1" cy="337.0" r="4.5" fill="url(#sr)"/>
<circle cx="239.1" cy="337.0" r="4.5" fill="url(#half)"/>
<line x1="199.5" y1="316.9" x2="311.7" y2="374.0" stroke="#cc2020" stroke-width="1.3" />
<g transform="translate(176.4,309.5) rotate(21.6)"><rect x="-20.65" y="-8.4" width="41.3" height="16.8" fill="#f8f64a"/><text x="0" y="4.7" font-size="13" font-weight="bold" fill="#ff6020" stroke="#d83000" stroke-width="0.4" text-anchor="middle" textLength="33" lengthAdjust="spacingAndGlyphs">(0001)</text></g>
<text x="0" y="0" font-size="11.6" fill="#ee1111" stroke="#ee1111" stroke-width="0.3" text-anchor="middle" transform="translate(312.6,349.6) rotate(-58)" dy="4.1">[1<tspan text-decoration="overline">2</tspan>10]</text>
<polygon points="188.6,357.0 205.0,359.0 219.5,366.0 220.3,371.5 210.8,399.8 194.0,398.5 178.6,389.0 186.6,362.4" fill="#ff0000" stroke="none" stroke-width="1" />
<path d="M186.6,362.4 L201.6,368.3 L220.3,371.5 M201.6,368.3 L194,398.5" fill="none" stroke="#990000" stroke-width="0.5"/>
<path d="M188.6,357 L205,359 L219.5,366 L220.3,371.5 L210.8,399.8 L194,398.5 L178.6,389 L186.6,362.4 Z" fill="none" stroke="#aa0000" stroke-width="0.4"/>
<line x1="200.0" y1="345.8" x2="200.0" y2="357.5" stroke="#888" stroke-width="0.8" />
<line x1="205.0" y1="362.4" x2="209.0" y2="350.0" stroke="#3333ff" stroke-width="0.6" />
<line x1="181.6" y1="375.0" x2="171.6" y2="374.6" stroke="#cc4444" stroke-width="0.6" />
<line x1="220.3" y1="378.0" x2="233.0" y2="378.0" stroke="#888" stroke-width="0.7" />
<line x1="216.6" y1="386.6" x2="225.7" y2="391.6" stroke="#44aa44" stroke-width="0.6" />
<text x="198.3" y="342.5" font-size="3.6" fill="#777">a1</text>
<text x="208.7" y="346.5" font-size="4.6" fill="#4444ff">c</text>
<text x="166" y="376" font-size="4.6" fill="#cc5555">a</text>
<text x="227.5" y="395.5" font-size="4.6" fill="#44aa44">b</text>
<polygon points="338.4,269.5 431.5,291.0 437.0,317.8" fill="#f6f030" stroke="none" stroke-width="1" opacity="0.8"/>
<line x1="412.5" y1="253.7" x2="347.8" y2="273.3" stroke="#333333" stroke-width="0.9" />
<line x1="347.8" y1="273.3" x2="354.9" y2="331.0" stroke="#333333" stroke-width="0.9" />
<line x1="354.9" y1="331.0" x2="425.0" y2="311.7" stroke="#333333" stroke-width="0.9" />
<line x1="425.0" y1="311.7" x2="412.5" y2="253.7" stroke="#333333" stroke-width="0.9" />
<line x1="368.6" y1="307.5" x2="430.0" y2="289.1" stroke="#333333" stroke-width="0.9" />
<line x1="430.0" y1="289.1" x2="441.4" y2="345.3" stroke="#333333" stroke-width="0.9" />
<line x1="441.4" y1="345.3" x2="377.0" y2="362.9" stroke="#333333" stroke-width="0.9" />
<line x1="377.0" y1="362.9" x2="368.6" y2="307.5" stroke="#333333" stroke-width="0.9" />
<line x1="412.5" y1="253.7" x2="430.0" y2="289.1" stroke="#333333" stroke-width="0.9" />
<line x1="347.8" y1="273.3" x2="368.6" y2="307.5" stroke="#333333" stroke-width="0.9" />
<line x1="354.9" y1="331.0" x2="377.0" y2="362.9" stroke="#333333" stroke-width="0.9" />
<line x1="425.0" y1="311.7" x2="441.4" y2="345.3" stroke="#333333" stroke-width="0.9" />
<circle cx="412.5" cy="253.7" r="4.9" fill="url(#sb)"/>
<circle cx="368.6" cy="307.5" r="4.9" fill="url(#sb)"/>
<circle cx="362.2" cy="318.5" r="4.9" fill="url(#sb)"/>
<circle cx="403.7" cy="325.6" r="4.9" fill="url(#sb)"/>
<circle cx="354.9" cy="331.0" r="4.9" fill="url(#sb)"/>
<circle cx="399.8" cy="337.7" r="4.9" fill="url(#sb)"/>
<circle cx="441.4" cy="345.3" r="4.9" fill="url(#sb)"/>
<circle cx="377.0" cy="362.9" r="4.9" fill="url(#sb)"/>
<circle cx="347.8" cy="273.3" r="4.9" fill="url(#sb)"/>
<circle cx="347.8" cy="273.3" r="4.9" fill="url(#halfb)"/>
<circle cx="390.0" cy="281.5" r="4.9" fill="url(#sb)"/>
<circle cx="390.0" cy="281.5" r="4.9" fill="url(#halfb)"/>
<circle cx="384.8" cy="292.0" r="4.9" fill="url(#sb)"/>
<circle cx="384.8" cy="292.0" r="4.9" fill="url(#halfb)"/>
<circle cx="430.0" cy="289.1" r="4.9" fill="url(#sb)"/>
<circle cx="430.0" cy="289.1" r="4.9" fill="url(#halfb)"/>
<circle cx="427.6" cy="299.3" r="4.9" fill="url(#sb)"/>
<circle cx="427.6" cy="299.3" r="4.9" fill="url(#halfb)"/>
<circle cx="425.0" cy="311.7" r="4.9" fill="url(#sb)"/>
<circle cx="425.0" cy="311.7" r="4.9" fill="url(#halfb)"/>
<line x1="347.8" y1="273.3" x2="467.4" y2="333.2" stroke="#1c1ccc" stroke-width="1.5" />
<g transform="translate(455.4,307.9) rotate(17.5)"><rect x="-17.5" y="-8.75" width="35" height="17.5" fill="#f8f64a"/><text x="0" y="4.9" font-size="13.5" font-weight="bold" fill="#2f3cff" stroke="#1a2380" stroke-width="0.4" text-anchor="middle" textLength="27" lengthAdjust="spacingAndGlyphs">(<tspan text-decoration="overline">1</tspan>11)</text></g>
<text x="0" y="0" font-size="12.2" fill="#1a1aee" stroke="#1a1aee" stroke-width="0.3" text-anchor="middle" transform="translate(457.2,349.0) rotate(-63)" dy="4.3">[110]</text>
<polygon points="336.6,369.1 363.3,360.8 368.5,386.3 340.8,394.0" fill="#0000ff" stroke="none" stroke-width="1" />
<polygon points="363.3,360.8 370.0,375.0 374.9,394.9 368.5,386.3" fill="#0000e8" stroke="none" stroke-width="1" />
<polygon points="340.8,394.0 368.5,386.3 374.9,394.9 350.8,402.9" fill="#000028" stroke="none" stroke-width="1" />
<line x1="356.6" y1="355.8" x2="356.6" y2="361.6" stroke="#888" stroke-width="0.6" />
<line x1="370.7" y1="377.4" x2="378.2" y2="375.3" stroke="#44aa44" stroke-width="0.6" />
<line x1="371.6" y1="382.4" x2="380.0" y2="382.4" stroke="#888" stroke-width="0.6" />
<line x1="359.4" y1="396.6" x2="360.0" y2="403.0" stroke="#cc3333" stroke-width="0.6" stroke-dasharray="1.5,1"/>
<circle cx="75.6" cy="477.6" r="64.5" fill="none" stroke="#4b5a86" stroke-width="1.2"/>
<line x1="11.1" y1="477.6" x2="140.1" y2="477.6" stroke="#4b5a86" stroke-width="1.1" />
<line x1="75.6" y1="413.1" x2="75.6" y2="542.1" stroke="#4b5a86" stroke-width="1.1" />
<text x="71.0" y="409.4" font-size="10" fill="#111" stroke="#111" stroke-width="0.15">Y<tspan font-size="6.8" dy="1.5">0</tspan></text>
<text x="142.5" y="480.9" font-size="10" fill="#111" stroke="#111" stroke-width="0.15">X<tspan font-size="6.8" dy="1.5">0</tspan></text>
<polygon points="91.4,425.2 92.4,427.8 95.2,428.0 93.0,429.7 93.8,432.4 91.4,430.9 89.0,432.4 89.8,429.7 87.6,428.0 90.4,427.8" fill="#1010ee" stroke="none" stroke-width="1" />
<text x="92.3" y="442.8" font-size="9.2" fill="#1a1a1a" stroke="#1a1a1a" stroke-width="0.2" text-anchor="middle">(1<tspan text-decoration="overline">1</tspan>1)</text>
<circle cx="56.9" cy="471.5" r="2.3" fill="#f7b400"/>
<text x="55.9" y="467.4" font-size="9.2" fill="#1a1a1a" stroke="#1a1a1a" stroke-width="0.2" text-anchor="middle">(111)</text>
<circle cx="137" cy="474.9" r="2.3" fill="#f7b400"/>
<text x="126.8" y="469.7" font-size="9.2" fill="#1a1a1a" stroke="#1a1a1a" stroke-width="0.2" text-anchor="middle">(<tspan text-decoration="overline">1</tspan><tspan text-decoration="overline">1</tspan>1)</text>
<circle cx="91.2" cy="514.1" r="2.3" fill="#f7b400"/>
<text x="91.6" y="525.6" font-size="9.2" fill="#1a1a1a" stroke="#1a1a1a" stroke-width="0.2" text-anchor="middle">(<tspan text-decoration="overline">1</tspan>11)</text>
<circle cx="235.3" cy="477.5" r="65" fill="none" stroke="#4b5a86" stroke-width="1.2"/>
<line x1="170.3" y1="477.5" x2="300.3" y2="477.5" stroke="#4b5a86" stroke-width="1.1" />
<line x1="235.3" y1="412.5" x2="235.3" y2="542.5" stroke="#4b5a86" stroke-width="1.1" />
<text x="230.7" y="408.8" font-size="10" fill="#111" stroke="#111" stroke-width="0.15">Y<tspan font-size="6.8" dy="1.5">0</tspan></text>
<text x="302.7" y="480.8" font-size="10" fill="#111" stroke="#111" stroke-width="0.15">X<tspan font-size="6.8" dy="1.5">0</tspan></text>
<polygon points="251.2,425.3 252.2,427.9 255.0,428.1 252.8,429.8 253.6,432.5 251.2,431.0 248.8,432.5 249.6,429.8 247.4,428.1 250.2,427.9" fill="#ee1111" stroke="none" stroke-width="1" />
<text x="253.6" y="441.8" font-size="9.2" fill="#1a1a1a" stroke="#1a1a1a" stroke-width="0.2" text-anchor="middle">(0001)</text>
<circle cx="394.1" cy="477.5" r="65" fill="none" stroke="#4b5a86" stroke-width="1.2"/>
<line x1="329.1" y1="477.5" x2="459.1" y2="477.5" stroke="#4b5a86" stroke-width="1.1" />
<line x1="394.1" y1="412.5" x2="394.1" y2="542.5" stroke="#4b5a86" stroke-width="1.1" />
<text x="389.5" y="408.8" font-size="10" fill="#111" stroke="#111" stroke-width="0.15">Y<tspan font-size="6.8" dy="1.5">0</tspan></text>
<text x="461.5" y="480.8" font-size="10" fill="#111" stroke="#111" stroke-width="0.15">X<tspan font-size="6.8" dy="1.5">0</tspan></text>
<polygon points="408.2,425.3 409.2,427.9 412.0,428.1 409.8,429.8 410.6,432.5 408.2,431.0 405.8,432.5 406.6,429.8 404.4,428.1 407.2,427.9" fill="#1010ee" stroke="none" stroke-width="1" />
<text x="409.8" y="442.3" font-size="9.2" fill="#1a1a1a" stroke="#1a1a1a" stroke-width="0.2" text-anchor="middle">(<tspan text-decoration="overline">1</tspan>11)</text>
<circle cx="344.6" cy="442.6" r="2.3" fill="#f7b400"/>
<text x="348.3" y="455.8" font-size="9.2" fill="#1a1a1a" stroke="#1a1a1a" stroke-width="0.2" text-anchor="middle">(<tspan text-decoration="overline">1</tspan><tspan text-decoration="overline">1</tspan>1)</text>
<circle cx="415.8" cy="483.2" r="2.3" fill="#f7b400"/>
<text x="417.8" y="497.3" font-size="9.2" fill="#1a1a1a" stroke="#1a1a1a" stroke-width="0.2" text-anchor="middle">(111)</text>
<circle cx="362.6" cy="499.8" r="2.3" fill="#f7b400"/>
<text x="362.9" y="514" font-size="9.2" fill="#1a1a1a" stroke="#1a1a1a" stroke-width="0.2" text-anchor="middle">(1<tspan text-decoration="overline">1</tspan>1)</text>
<text x="4.8" y="17" font-size="13.5" fill="#111" stroke="#111" stroke-width="0.25" textLength="18.6" lengthAdjust="spacingAndGlyphs">(a<tspan font-size="8.6">1</tspan>)</text>
<text x="4.8" y="73" font-size="13.5" fill="#111" stroke="#111" stroke-width="0.25" textLength="18.6" lengthAdjust="spacingAndGlyphs">(a<tspan font-size="8.6">2</tspan>)</text>
<text x="4.8" y="145" font-size="13.5" fill="#111" stroke="#111" stroke-width="0.25" textLength="18.6" lengthAdjust="spacingAndGlyphs">(a<tspan font-size="8.6">3</tspan>)</text>
<text x="111.2" y="17.4" font-size="13.5" fill="#111" stroke="#111" stroke-width="0.25" textLength="19.8" lengthAdjust="spacingAndGlyphs">(a<tspan font-size="8.6">4</tspan>)</text>
<text x="112.8" y="100.3" font-size="13.5" fill="#111" text-anchor="start" font-weight="normal" stroke="#111" stroke-width="0.25">(b)</text>
<text x="324.6" y="100.9" font-size="13.5" fill="#111" text-anchor="start" font-weight="normal" stroke="#111" stroke-width="0.25" textLength="14.3" lengthAdjust="spacingAndGlyphs">(c)</text>
<text x="4.6" y="248" font-size="13.5" fill="#111" text-anchor="start" font-weight="normal" stroke="#111" stroke-width="0.25">(d)</text>
<text x="4.4" y="413.3" font-size="13.5" fill="#111" text-anchor="start" font-weight="normal" stroke="#111" stroke-width="0.25">(e)</text>
</svg>
</body></html>
